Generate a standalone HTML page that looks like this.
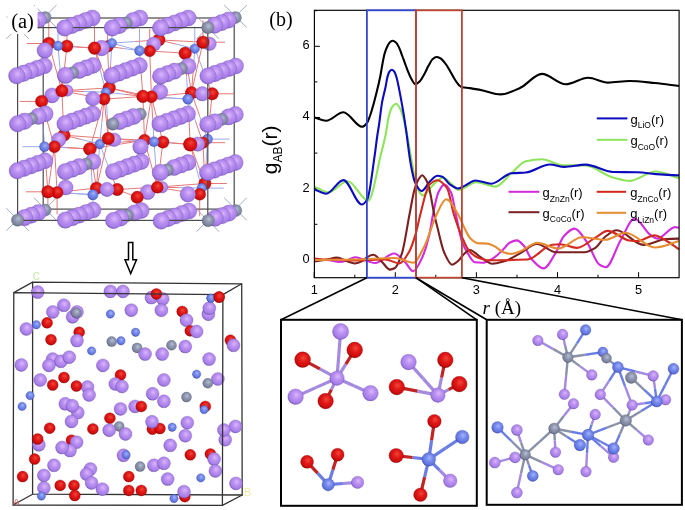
<!DOCTYPE html>
<html><head><meta charset="utf-8"><title>Figure</title>
<style>html,body{margin:0;padding:0;background:#fff;}#w{position:relative;width:685px;height:510px;overflow:hidden;background:#fff;}svg{display:block;}</style>
</head><body><div id="w">
<svg width="685" height="510" viewBox="0 0 685 510">
<defs>
<radialGradient id="gP" cx="0.55" cy="0.42" r="0.6" fx="0.55" fy="0.38">
<stop offset="0" stop-color="#dcb6fa"/>
<stop offset="0.45" stop-color="#b88ef0"/>
<stop offset="0.8" stop-color="#a67ee8"/>
<stop offset="0.93" stop-color="#8e66d2"/>
<stop offset="1" stop-color="#644494"/>
</radialGradient>
<radialGradient id="gR" cx="0.55" cy="0.42" r="0.6" fx="0.55" fy="0.38">
<stop offset="0" stop-color="#f04838"/>
<stop offset="0.45" stop-color="#e01818"/>
<stop offset="0.8" stop-color="#d00c0c"/>
<stop offset="0.93" stop-color="#b00404"/>
<stop offset="1" stop-color="#780000"/>
</radialGradient>
<radialGradient id="gB" cx="0.55" cy="0.42" r="0.6" fx="0.55" fy="0.38">
<stop offset="0" stop-color="#a4b4f8"/>
<stop offset="0.45" stop-color="#7488ec"/>
<stop offset="0.8" stop-color="#6074e0"/>
<stop offset="0.93" stop-color="#4c5cc4"/>
<stop offset="1" stop-color="#303c90"/>
</radialGradient>
<radialGradient id="gG" cx="0.55" cy="0.42" r="0.6" fx="0.55" fy="0.38">
<stop offset="0" stop-color="#b8c0d2"/>
<stop offset="0.45" stop-color="#8e96b0"/>
<stop offset="0.8" stop-color="#7c849c"/>
<stop offset="0.93" stop-color="#666c86"/>
<stop offset="1" stop-color="#444a5e"/>
</radialGradient>
</defs>
<rect x="43.2" y="18" width="191" height="191.1" fill="none" stroke="#4a4a4a" stroke-width="1.2"/>
<line x1="17.6" y1="27.6" x2="43.2" y2="18" stroke="#4a4a4a" stroke-width="1.2"/>
<line x1="207.8" y1="27.6" x2="234.2" y2="18" stroke="#4a4a4a" stroke-width="1.2"/>
<line x1="17.6" y1="220.4" x2="43.2" y2="209.1" stroke="#4a4a4a" stroke-width="1.2"/>
<line x1="207.8" y1="220.4" x2="234.2" y2="209.1" stroke="#4a4a4a" stroke-width="1.2"/>
<g stroke-width="1" opacity="0.75"><line x1="66.9" y1="46.1" x2="57.9" y2="44.8" stroke="#dc4c4c"/><line x1="57.9" y1="44.8" x2="48.8" y2="43.5" stroke="#dc4c4c"/><line x1="66.9" y1="46.1" x2="80.7" y2="47.1" stroke="#dc4c4c"/><line x1="80.7" y1="47.1" x2="94.5" y2="48.1" stroke="#dc4c4c"/><line x1="66.9" y1="46.1" x2="64.4" y2="68.5" stroke="#dc4c4c"/><line x1="64.4" y1="68.5" x2="61.9" y2="90.8" stroke="#dc4c4c"/><line x1="48.8" y1="43.5" x2="55.3" y2="67.2" stroke="#dc4c4c"/><line x1="55.3" y1="67.2" x2="61.9" y2="90.8" stroke="#dc4c4c"/><line x1="58" y1="45.8" x2="76.2" y2="47" stroke="#7c8cec"/><line x1="76.2" y1="47" x2="94.5" y2="48.1" stroke="#dc4c4c"/><line x1="58" y1="45.8" x2="60" y2="68.3" stroke="#7c8cec"/><line x1="60" y1="68.3" x2="61.9" y2="90.8" stroke="#dc4c4c"/><line x1="107.6" y1="46.4" x2="101" y2="47.2" stroke="#dc4c4c"/><line x1="101" y1="47.2" x2="94.5" y2="48.1" stroke="#dc4c4c"/><line x1="107.6" y1="46.4" x2="123.5" y2="48.5" stroke="#dc4c4c"/><line x1="123.5" y1="48.5" x2="139.5" y2="50.7" stroke="#7c8cec"/><line x1="107.6" y1="46.4" x2="108.4" y2="67.2" stroke="#dc4c4c"/><line x1="108.4" y1="67.2" x2="109.3" y2="87.9" stroke="#dc4c4c"/><line x1="111.9" y1="43.1" x2="103.2" y2="45.6" stroke="#7c8cec"/><line x1="103.2" y1="45.6" x2="94.5" y2="48.1" stroke="#dc4c4c"/><line x1="111.9" y1="43.1" x2="135.4" y2="41.5" stroke="#7c8cec"/><line x1="135.4" y1="41.5" x2="158.9" y2="39.9" stroke="#dc4c4c"/><line x1="111.9" y1="43.1" x2="125.7" y2="46.9" stroke="#7c8cec"/><line x1="125.7" y1="46.9" x2="139.5" y2="50.7" stroke="#7c8cec"/><line x1="111.9" y1="43.1" x2="110.6" y2="65.5" stroke="#7c8cec"/><line x1="110.6" y1="65.5" x2="109.3" y2="87.9" stroke="#dc4c4c"/><line x1="94.5" y1="48.1" x2="101.9" y2="68" stroke="#dc4c4c"/><line x1="101.9" y1="68" x2="109.3" y2="87.9" stroke="#dc4c4c"/><line x1="94.5" y1="48.1" x2="100.2" y2="70.2" stroke="#dc4c4c"/><line x1="100.2" y1="70.2" x2="106" y2="92.2" stroke="#7c8cec"/><line x1="158.9" y1="39.9" x2="176.9" y2="44.3" stroke="#dc4c4c"/><line x1="176.9" y1="44.3" x2="194.8" y2="48.7" stroke="#7c8cec"/><line x1="158.9" y1="39.9" x2="180.9" y2="41" stroke="#dc4c4c"/><line x1="180.9" y1="41" x2="203" y2="42.2" stroke="#dc4c4c"/><line x1="149.7" y1="51" x2="144.6" y2="50.9" stroke="#dc4c4c"/><line x1="144.6" y1="50.9" x2="139.5" y2="50.7" stroke="#7c8cec"/><line x1="149.7" y1="51" x2="167.4" y2="52.1" stroke="#dc4c4c"/><line x1="167.4" y1="52.1" x2="185.2" y2="53.3" stroke="#dc4c4c"/><line x1="149.7" y1="51" x2="150.6" y2="73.9" stroke="#dc4c4c"/><line x1="150.6" y1="73.9" x2="151.4" y2="96.8" stroke="#dc4c4c"/><line x1="139.5" y1="50.7" x2="141.2" y2="73.6" stroke="#7c8cec"/><line x1="141.2" y1="73.6" x2="142.9" y2="96.4" stroke="#dc4c4c"/><line x1="194.8" y1="48.7" x2="190" y2="51" stroke="#7c8cec"/><line x1="190" y1="51" x2="185.2" y2="53.3" stroke="#dc4c4c"/><line x1="194.8" y1="48.7" x2="203.5" y2="71.2" stroke="#7c8cec"/><line x1="203.5" y1="71.2" x2="212.2" y2="93.8" stroke="#dc4c4c"/><line x1="194.8" y1="48.7" x2="193.2" y2="70.8" stroke="#7c8cec"/><line x1="193.2" y1="70.8" x2="191.5" y2="92.8" stroke="#dc4c4c"/><line x1="203" y1="42.2" x2="197.2" y2="67.5" stroke="#dc4c4c"/><line x1="197.2" y1="67.5" x2="191.5" y2="92.8" stroke="#dc4c4c"/><line x1="185.2" y1="53.3" x2="188.3" y2="73" stroke="#dc4c4c"/><line x1="188.3" y1="73" x2="191.5" y2="92.8" stroke="#dc4c4c"/><line x1="185.2" y1="53.3" x2="186.6" y2="76.2" stroke="#dc4c4c"/><line x1="186.6" y1="76.2" x2="187.9" y2="99.1" stroke="#7c8cec"/><line x1="61.9" y1="90.8" x2="85.6" y2="89.3" stroke="#dc4c4c"/><line x1="85.6" y1="89.3" x2="109.3" y2="87.9" stroke="#dc4c4c"/><line x1="61.9" y1="90.8" x2="84" y2="91.5" stroke="#dc4c4c"/><line x1="84" y1="91.5" x2="106" y2="92.2" stroke="#7c8cec"/><line x1="61.9" y1="90.8" x2="83" y2="94.9" stroke="#dc4c4c"/><line x1="83" y1="94.9" x2="104.1" y2="99.1" stroke="#dc4c4c"/><line x1="61.9" y1="90.8" x2="62.9" y2="113" stroke="#dc4c4c"/><line x1="62.9" y1="113" x2="63.9" y2="135.2" stroke="#dc4c4c"/><line x1="41.6" y1="101.4" x2="48" y2="124" stroke="#dc4c4c"/><line x1="48" y1="124" x2="54.4" y2="146.7" stroke="#dc4c4c"/><line x1="41.6" y1="101.4" x2="43" y2="124" stroke="#dc4c4c"/><line x1="43" y1="124" x2="44.5" y2="146.7" stroke="#7c8cec"/><line x1="109.3" y1="87.9" x2="106.7" y2="93.5" stroke="#dc4c4c"/><line x1="106.7" y1="93.5" x2="104.1" y2="99.1" stroke="#dc4c4c"/><line x1="109.3" y1="87.9" x2="130.3" y2="92.3" stroke="#dc4c4c"/><line x1="130.3" y1="92.3" x2="151.4" y2="96.8" stroke="#dc4c4c"/><line x1="109.3" y1="87.9" x2="126.1" y2="92.2" stroke="#dc4c4c"/><line x1="126.1" y1="92.2" x2="142.9" y2="96.4" stroke="#dc4c4c"/><line x1="106" y1="92.2" x2="124.5" y2="94.3" stroke="#7c8cec"/><line x1="124.5" y1="94.3" x2="142.9" y2="96.4" stroke="#dc4c4c"/><line x1="106" y1="92.2" x2="107.2" y2="115.3" stroke="#7c8cec"/><line x1="107.2" y1="115.3" x2="108.3" y2="138.5" stroke="#dc4c4c"/><line x1="104.1" y1="99.1" x2="123.5" y2="97.8" stroke="#dc4c4c"/><line x1="123.5" y1="97.8" x2="142.9" y2="96.4" stroke="#dc4c4c"/><line x1="104.1" y1="99.1" x2="101.9" y2="121.6" stroke="#dc4c4c"/><line x1="101.9" y1="121.6" x2="99.7" y2="144.1" stroke="#7c8cec"/><line x1="104.1" y1="99.1" x2="106.2" y2="118.8" stroke="#dc4c4c"/><line x1="106.2" y1="118.8" x2="108.3" y2="138.5" stroke="#dc4c4c"/><line x1="104.1" y1="99.1" x2="97" y2="124" stroke="#dc4c4c"/><line x1="97" y1="124" x2="89.9" y2="149" stroke="#dc4c4c"/><line x1="151.4" y1="96.8" x2="171.4" y2="94.8" stroke="#dc4c4c"/><line x1="171.4" y1="94.8" x2="191.5" y2="92.8" stroke="#dc4c4c"/><line x1="151.4" y1="96.8" x2="169.7" y2="97.9" stroke="#dc4c4c"/><line x1="169.7" y1="97.9" x2="187.9" y2="99.1" stroke="#7c8cec"/><line x1="151.4" y1="96.8" x2="157.2" y2="119.4" stroke="#dc4c4c"/><line x1="157.2" y1="119.4" x2="162.9" y2="142.1" stroke="#dc4c4c"/><line x1="151.4" y1="96.8" x2="147.9" y2="118.5" stroke="#dc4c4c"/><line x1="147.9" y1="118.5" x2="144.5" y2="140.2" stroke="#dc4c4c"/><line x1="151.4" y1="96.8" x2="152.7" y2="119.3" stroke="#dc4c4c"/><line x1="152.7" y1="119.3" x2="154" y2="141.8" stroke="#7c8cec"/><line x1="142.9" y1="96.4" x2="165.4" y2="97.8" stroke="#dc4c4c"/><line x1="165.4" y1="97.8" x2="187.9" y2="99.1" stroke="#7c8cec"/><line x1="142.9" y1="96.4" x2="143.7" y2="118.3" stroke="#dc4c4c"/><line x1="143.7" y1="118.3" x2="144.5" y2="140.2" stroke="#dc4c4c"/><line x1="212.2" y1="93.8" x2="201.8" y2="93.3" stroke="#dc4c4c"/><line x1="201.8" y1="93.3" x2="191.5" y2="92.8" stroke="#dc4c4c"/><line x1="212.2" y1="93.8" x2="200.1" y2="96.4" stroke="#dc4c4c"/><line x1="200.1" y1="96.4" x2="187.9" y2="99.1" stroke="#7c8cec"/><line x1="212.2" y1="93.8" x2="209.9" y2="116.4" stroke="#dc4c4c"/><line x1="209.9" y1="116.4" x2="207.6" y2="139.1" stroke="#7c8cec"/><line x1="191.5" y1="92.8" x2="199.6" y2="115.9" stroke="#dc4c4c"/><line x1="199.6" y1="115.9" x2="207.6" y2="139.1" stroke="#7c8cec"/><line x1="187.9" y1="99.1" x2="195.4" y2="120.9" stroke="#7c8cec"/><line x1="195.4" y1="120.9" x2="203" y2="142.7" stroke="#dc4c4c"/><line x1="187.9" y1="99.1" x2="189.1" y2="121.8" stroke="#7c8cec"/><line x1="189.1" y1="121.8" x2="190.2" y2="144.4" stroke="#dc4c4c"/><line x1="63.9" y1="135.2" x2="81.8" y2="139.6" stroke="#dc4c4c"/><line x1="81.8" y1="139.6" x2="99.7" y2="144.1" stroke="#7c8cec"/><line x1="63.9" y1="135.2" x2="86.1" y2="136.8" stroke="#dc4c4c"/><line x1="86.1" y1="136.8" x2="108.3" y2="138.5" stroke="#dc4c4c"/><line x1="54.4" y1="146.7" x2="72.2" y2="147.8" stroke="#dc4c4c"/><line x1="72.2" y1="147.8" x2="89.9" y2="149" stroke="#dc4c4c"/><line x1="54.4" y1="146.7" x2="55.8" y2="169.6" stroke="#dc4c4c"/><line x1="55.8" y1="169.6" x2="57.1" y2="192.4" stroke="#dc4c4c"/><line x1="54.4" y1="146.7" x2="51.1" y2="169.2" stroke="#dc4c4c"/><line x1="51.1" y1="169.2" x2="47.9" y2="191.8" stroke="#dc4c4c"/><line x1="44.5" y1="146.7" x2="67.2" y2="147.8" stroke="#7c8cec"/><line x1="67.2" y1="147.8" x2="89.9" y2="149" stroke="#dc4c4c"/><line x1="44.5" y1="146.7" x2="46.2" y2="169.2" stroke="#7c8cec"/><line x1="46.2" y1="169.2" x2="47.9" y2="191.8" stroke="#dc4c4c"/><line x1="99.7" y1="144.1" x2="122.1" y2="142.1" stroke="#7c8cec"/><line x1="122.1" y1="142.1" x2="144.5" y2="140.2" stroke="#dc4c4c"/><line x1="99.7" y1="144.1" x2="108.5" y2="166.8" stroke="#7c8cec"/><line x1="108.5" y1="166.8" x2="117.2" y2="189.5" stroke="#dc4c4c"/><line x1="99.7" y1="144.1" x2="98.1" y2="166.1" stroke="#7c8cec"/><line x1="98.1" y1="166.1" x2="96.5" y2="188.1" stroke="#dc4c4c"/><line x1="108.3" y1="138.5" x2="126.4" y2="139.3" stroke="#dc4c4c"/><line x1="126.4" y1="139.3" x2="144.5" y2="140.2" stroke="#dc4c4c"/><line x1="108.3" y1="138.5" x2="131.2" y2="140.2" stroke="#dc4c4c"/><line x1="131.2" y1="140.2" x2="154" y2="141.8" stroke="#7c8cec"/><line x1="108.3" y1="138.5" x2="102.4" y2="163.3" stroke="#dc4c4c"/><line x1="102.4" y1="163.3" x2="96.5" y2="188.1" stroke="#dc4c4c"/><line x1="89.9" y1="149" x2="117.2" y2="144.6" stroke="#dc4c4c"/><line x1="117.2" y1="144.6" x2="144.5" y2="140.2" stroke="#dc4c4c"/><line x1="89.9" y1="149" x2="93.2" y2="168.6" stroke="#dc4c4c"/><line x1="93.2" y1="168.6" x2="96.5" y2="188.1" stroke="#dc4c4c"/><line x1="89.9" y1="149" x2="91.4" y2="171.8" stroke="#dc4c4c"/><line x1="91.4" y1="171.8" x2="92.9" y2="194.7" stroke="#7c8cec"/><line x1="162.9" y1="142.1" x2="153.7" y2="141.1" stroke="#dc4c4c"/><line x1="153.7" y1="141.1" x2="144.5" y2="140.2" stroke="#dc4c4c"/><line x1="162.9" y1="142.1" x2="176.6" y2="143.2" stroke="#dc4c4c"/><line x1="176.6" y1="143.2" x2="190.2" y2="144.4" stroke="#dc4c4c"/><line x1="162.9" y1="142.1" x2="160.1" y2="164.6" stroke="#dc4c4c"/><line x1="160.1" y1="164.6" x2="157.3" y2="187.2" stroke="#dc4c4c"/><line x1="144.5" y1="140.2" x2="150.9" y2="163.7" stroke="#dc4c4c"/><line x1="150.9" y1="163.7" x2="157.3" y2="187.2" stroke="#dc4c4c"/><line x1="154" y1="141.8" x2="172.1" y2="143.1" stroke="#7c8cec"/><line x1="172.1" y1="143.1" x2="190.2" y2="144.4" stroke="#dc4c4c"/><line x1="154" y1="141.8" x2="155.7" y2="164.5" stroke="#7c8cec"/><line x1="155.7" y1="164.5" x2="157.3" y2="187.2" stroke="#dc4c4c"/><line x1="207.6" y1="139.1" x2="198.9" y2="141.8" stroke="#7c8cec"/><line x1="198.9" y1="141.8" x2="190.2" y2="144.4" stroke="#dc4c4c"/><line x1="207.6" y1="139.1" x2="206.2" y2="161.3" stroke="#7c8cec"/><line x1="206.2" y1="161.3" x2="204.9" y2="183.5" stroke="#dc4c4c"/><line x1="203" y1="142.7" x2="196.6" y2="143.6" stroke="#dc4c4c"/><line x1="196.6" y1="143.6" x2="190.2" y2="144.4" stroke="#dc4c4c"/><line x1="203" y1="142.7" x2="203.9" y2="163.1" stroke="#dc4c4c"/><line x1="203.9" y1="163.1" x2="204.9" y2="183.5" stroke="#dc4c4c"/><line x1="190.2" y1="144.4" x2="197.6" y2="163.9" stroke="#dc4c4c"/><line x1="197.6" y1="163.9" x2="204.9" y2="183.5" stroke="#dc4c4c"/><line x1="190.2" y1="144.4" x2="195.9" y2="166.2" stroke="#dc4c4c"/><line x1="195.9" y1="166.2" x2="201.7" y2="188.1" stroke="#7c8cec"/><line x1="57.1" y1="192.4" x2="76.8" y2="190.2" stroke="#dc4c4c"/><line x1="76.8" y1="190.2" x2="96.5" y2="188.1" stroke="#dc4c4c"/><line x1="57.1" y1="192.4" x2="75" y2="193.6" stroke="#dc4c4c"/><line x1="75" y1="193.6" x2="92.9" y2="194.7" stroke="#7c8cec"/><line x1="47.9" y1="191.8" x2="70.4" y2="193.2" stroke="#dc4c4c"/><line x1="70.4" y1="193.2" x2="92.9" y2="194.7" stroke="#7c8cec"/><line x1="117.2" y1="189.5" x2="106.8" y2="188.8" stroke="#dc4c4c"/><line x1="106.8" y1="188.8" x2="96.5" y2="188.1" stroke="#dc4c4c"/><line x1="117.2" y1="189.5" x2="105.1" y2="192.1" stroke="#dc4c4c"/><line x1="105.1" y1="192.1" x2="92.9" y2="194.7" stroke="#7c8cec"/><line x1="117.2" y1="189.5" x2="137.2" y2="188.3" stroke="#dc4c4c"/><line x1="137.2" y1="188.3" x2="157.3" y2="187.2" stroke="#dc4c4c"/><line x1="117.2" y1="189.5" x2="127.2" y2="193.4" stroke="#dc4c4c"/><line x1="127.2" y1="193.4" x2="137.2" y2="197.3" stroke="#dc4c4c"/><line x1="157.3" y1="187.2" x2="181.1" y2="185.3" stroke="#dc4c4c"/><line x1="181.1" y1="185.3" x2="204.9" y2="183.5" stroke="#dc4c4c"/><line x1="157.3" y1="187.2" x2="179.5" y2="187.6" stroke="#dc4c4c"/><line x1="179.5" y1="187.6" x2="201.7" y2="188.1" stroke="#7c8cec"/><line x1="157.3" y1="187.2" x2="178.5" y2="190.8" stroke="#dc4c4c"/><line x1="178.5" y1="190.8" x2="199.7" y2="194.3" stroke="#dc4c4c"/><line x1="204.9" y1="183.5" x2="202.3" y2="188.9" stroke="#dc4c4c"/><line x1="202.3" y1="188.9" x2="199.7" y2="194.3" stroke="#dc4c4c"/><line x1="66.9" y1="46.1" x2="66.9" y2="24.1" stroke="#dc4c4c"/><line x1="48.8" y1="43.5" x2="26.8" y2="43.5" stroke="#dc4c4c"/><line x1="48.8" y1="43.5" x2="48.8" y2="21.5" stroke="#dc4c4c"/><line x1="58" y1="45.8" x2="58" y2="23.8" stroke="#7c8cec"/><line x1="107.6" y1="46.4" x2="107.6" y2="24.4" stroke="#dc4c4c"/><line x1="111.9" y1="43.1" x2="111.9" y2="21.1" stroke="#7c8cec"/><line x1="94.5" y1="48.1" x2="94.5" y2="26.1" stroke="#dc4c4c"/><line x1="158.9" y1="39.9" x2="158.9" y2="17.9" stroke="#dc4c4c"/><line x1="149.7" y1="51" x2="149.7" y2="29" stroke="#dc4c4c"/><line x1="139.5" y1="50.7" x2="139.5" y2="28.7" stroke="#7c8cec"/><line x1="194.8" y1="48.7" x2="194.8" y2="26.7" stroke="#7c8cec"/><line x1="203" y1="42.2" x2="225" y2="42.2" stroke="#dc4c4c"/><line x1="203" y1="42.2" x2="203" y2="20.2" stroke="#dc4c4c"/><line x1="41.6" y1="101.4" x2="19.6" y2="101.4" stroke="#dc4c4c"/><line x1="212.2" y1="93.8" x2="234.2" y2="93.8" stroke="#dc4c4c"/><line x1="44.5" y1="146.7" x2="22.5" y2="146.7" stroke="#7c8cec"/><line x1="207.6" y1="139.1" x2="229.6" y2="139.1" stroke="#7c8cec"/><line x1="203" y1="142.7" x2="225" y2="142.7" stroke="#dc4c4c"/><line x1="57.1" y1="192.4" x2="57.1" y2="214.4" stroke="#dc4c4c"/><line x1="47.9" y1="191.8" x2="25.9" y2="191.8" stroke="#dc4c4c"/><line x1="47.9" y1="191.8" x2="47.9" y2="213.8" stroke="#dc4c4c"/><line x1="92.9" y1="194.7" x2="92.9" y2="216.7" stroke="#7c8cec"/><line x1="137.2" y1="197.3" x2="137.2" y2="219.3" stroke="#dc4c4c"/><line x1="204.9" y1="183.5" x2="226.9" y2="183.5" stroke="#dc4c4c"/><line x1="201.7" y1="188.1" x2="223.7" y2="188.1" stroke="#7c8cec"/><line x1="199.7" y1="194.3" x2="199.7" y2="216.3" stroke="#dc4c4c"/></g>
<g stroke="#9aa0b8" stroke-width="0.9"><line x1="17.6" y1="219.5" x2="28.9" y2="230.8"/><line x1="17.6" y1="219.5" x2="6.3" y2="230.8"/><line x1="17.6" y1="219.5" x2="6.3" y2="208.2"/><line x1="17.6" y1="219.5" x2="28.9" y2="208.2"/><line x1="45.2" y1="209" x2="56.5" y2="220.3"/><line x1="45.2" y1="209" x2="33.9" y2="220.3"/><line x1="45.2" y1="209" x2="33.9" y2="197.7"/><line x1="45.2" y1="209" x2="56.5" y2="197.7"/><line x1="207.8" y1="220.4" x2="219.1" y2="231.7"/><line x1="207.8" y1="220.4" x2="196.5" y2="231.7"/><line x1="207.8" y1="220.4" x2="196.5" y2="209.1"/><line x1="207.8" y1="220.4" x2="219.1" y2="209.1"/><line x1="235.5" y1="209.1" x2="246.8" y2="220.4"/><line x1="235.5" y1="209.1" x2="224.2" y2="220.4"/><line x1="235.5" y1="209.1" x2="224.2" y2="197.8"/><line x1="235.5" y1="209.1" x2="246.8" y2="197.8"/><line x1="235.5" y1="16.3" x2="246.8" y2="27.6"/><line x1="235.5" y1="16.3" x2="224.2" y2="27.6"/><line x1="235.5" y1="16.3" x2="224.2" y2="5"/><line x1="235.5" y1="16.3" x2="246.8" y2="5"/><line x1="207.8" y1="27.6" x2="219.1" y2="38.9"/><line x1="207.8" y1="27.6" x2="196.5" y2="38.9"/><line x1="207.8" y1="27.6" x2="196.5" y2="16.3"/><line x1="207.8" y1="27.6" x2="219.1" y2="16.3"/><line x1="45.2" y1="16.3" x2="56.5" y2="27.6"/><line x1="45.2" y1="16.3" x2="33.9" y2="27.6"/><line x1="45.2" y1="16.3" x2="33.9" y2="5"/><line x1="45.2" y1="16.3" x2="56.5" y2="5"/><line x1="17.6" y1="27.6" x2="28.9" y2="38.9"/><line x1="17.6" y1="27.6" x2="6.3" y2="38.9"/><line x1="17.6" y1="27.6" x2="6.3" y2="16.3"/><line x1="17.6" y1="27.6" x2="28.9" y2="16.3"/></g>
<circle cx="66.9" cy="46.1" r="6.2" fill="url(#gR)" stroke="#8a0000" stroke-width="0.5" stroke-opacity="0.6"/>
<circle cx="48.8" cy="43.5" r="6.2" fill="url(#gR)" stroke="#8a0000" stroke-width="0.5" stroke-opacity="0.6"/>
<circle cx="58" cy="45.8" r="4.8" fill="url(#gB)" stroke="#3a4aa0" stroke-width="0.5" stroke-opacity="0.6"/>
<circle cx="44.8" cy="50.4" r="7.8" fill="url(#gP)" stroke="#6a4aa8" stroke-width="0.5" stroke-opacity="0.6"/>
<circle cx="107.6" cy="46.4" r="5.8" fill="url(#gR)" stroke="#8a0000" stroke-width="0.5" stroke-opacity="0.6"/>
<circle cx="111.9" cy="43.1" r="4.7" fill="url(#gB)" stroke="#3a4aa0" stroke-width="0.5" stroke-opacity="0.6"/>
<circle cx="101.7" cy="48.1" r="7.8" fill="url(#gP)" stroke="#6a4aa8" stroke-width="0.5" stroke-opacity="0.6"/>
<circle cx="94.5" cy="48.1" r="6.3" fill="url(#gR)" stroke="#8a0000" stroke-width="0.5" stroke-opacity="0.6"/>
<circle cx="158.9" cy="39.9" r="6.2" fill="url(#gR)" stroke="#8a0000" stroke-width="0.5" stroke-opacity="0.6"/>
<circle cx="153.7" cy="44.1" r="7.2" fill="url(#gP)" stroke="#6a4aa8" stroke-width="0.5" stroke-opacity="0.6"/>
<circle cx="149.7" cy="51" r="5.8" fill="url(#gR)" stroke="#8a0000" stroke-width="0.5" stroke-opacity="0.6"/>
<circle cx="139.5" cy="50.7" r="5" fill="url(#gB)" stroke="#3a4aa0" stroke-width="0.5" stroke-opacity="0.6"/>
<circle cx="209.5" cy="43.8" r="6.8" fill="url(#gP)" stroke="#6a4aa8" stroke-width="0.5" stroke-opacity="0.6"/>
<circle cx="194.8" cy="48.7" r="4.8" fill="url(#gB)" stroke="#3a4aa0" stroke-width="0.5" stroke-opacity="0.6"/>
<circle cx="203" cy="42.2" r="6.3" fill="url(#gR)" stroke="#8a0000" stroke-width="0.5" stroke-opacity="0.6"/>
<circle cx="185.2" cy="53.3" r="6.3" fill="url(#gR)" stroke="#8a0000" stroke-width="0.5" stroke-opacity="0.6"/>
<circle cx="67.2" cy="90.5" r="5.8" fill="url(#gP)" stroke="#6a4aa8" stroke-width="0.5" stroke-opacity="0.6"/>
<circle cx="52.1" cy="95.4" r="7.5" fill="url(#gP)" stroke="#6a4aa8" stroke-width="0.5" stroke-opacity="0.6"/>
<circle cx="61.9" cy="90.8" r="6.2" fill="url(#gR)" stroke="#8a0000" stroke-width="0.5" stroke-opacity="0.6"/>
<circle cx="41.6" cy="101.4" r="6.2" fill="url(#gR)" stroke="#8a0000" stroke-width="0.5" stroke-opacity="0.6"/>
<circle cx="109.3" cy="87.9" r="6.2" fill="url(#gR)" stroke="#8a0000" stroke-width="0.5" stroke-opacity="0.6"/>
<circle cx="106" cy="92.2" r="4.8" fill="url(#gB)" stroke="#3a4aa0" stroke-width="0.5" stroke-opacity="0.6"/>
<circle cx="104.1" cy="99.1" r="6" fill="url(#gR)" stroke="#8a0000" stroke-width="0.5" stroke-opacity="0.6"/>
<circle cx="92.9" cy="98.7" r="7.3" fill="url(#gP)" stroke="#6a4aa8" stroke-width="0.5" stroke-opacity="0.6"/>
<circle cx="160" cy="91.8" r="7.8" fill="url(#gP)" stroke="#6a4aa8" stroke-width="0.5" stroke-opacity="0.6"/>
<circle cx="151.4" cy="96.8" r="6" fill="url(#gR)" stroke="#8a0000" stroke-width="0.5" stroke-opacity="0.6"/>
<circle cx="142.9" cy="96.4" r="6.3" fill="url(#gR)" stroke="#8a0000" stroke-width="0.5" stroke-opacity="0.6"/>
<circle cx="212.2" cy="93.8" r="6.2" fill="url(#gR)" stroke="#8a0000" stroke-width="0.5" stroke-opacity="0.6"/>
<circle cx="191.5" cy="92.8" r="6.2" fill="url(#gR)" stroke="#8a0000" stroke-width="0.5" stroke-opacity="0.6"/>
<circle cx="202.3" cy="93.8" r="7.2" fill="url(#gP)" stroke="#6a4aa8" stroke-width="0.5" stroke-opacity="0.6"/>
<circle cx="187.9" cy="99.1" r="5.2" fill="url(#gB)" stroke="#3a4aa0" stroke-width="0.5" stroke-opacity="0.6"/>
<circle cx="63.9" cy="135.2" r="6.2" fill="url(#gR)" stroke="#8a0000" stroke-width="0.5" stroke-opacity="0.6"/>
<circle cx="58.7" cy="139.8" r="7.2" fill="url(#gP)" stroke="#6a4aa8" stroke-width="0.5" stroke-opacity="0.6"/>
<circle cx="54.4" cy="146.7" r="6" fill="url(#gR)" stroke="#8a0000" stroke-width="0.5" stroke-opacity="0.6"/>
<circle cx="44.5" cy="146.7" r="5" fill="url(#gB)" stroke="#3a4aa0" stroke-width="0.5" stroke-opacity="0.6"/>
<circle cx="114.2" cy="139.8" r="6.8" fill="url(#gP)" stroke="#6a4aa8" stroke-width="0.5" stroke-opacity="0.6"/>
<circle cx="99.7" cy="144.1" r="4.8" fill="url(#gB)" stroke="#3a4aa0" stroke-width="0.5" stroke-opacity="0.6"/>
<circle cx="108.3" cy="138.5" r="6.2" fill="url(#gR)" stroke="#8a0000" stroke-width="0.5" stroke-opacity="0.6"/>
<circle cx="89.9" cy="149" r="6.5" fill="url(#gR)" stroke="#8a0000" stroke-width="0.5" stroke-opacity="0.6"/>
<circle cx="162.9" cy="142.1" r="6.2" fill="url(#gR)" stroke="#8a0000" stroke-width="0.5" stroke-opacity="0.6"/>
<circle cx="144.5" cy="140.2" r="6" fill="url(#gR)" stroke="#8a0000" stroke-width="0.5" stroke-opacity="0.6"/>
<circle cx="154" cy="141.8" r="5" fill="url(#gB)" stroke="#3a4aa0" stroke-width="0.5" stroke-opacity="0.6"/>
<circle cx="140.5" cy="146.7" r="7.8" fill="url(#gP)" stroke="#6a4aa8" stroke-width="0.5" stroke-opacity="0.6"/>
<circle cx="207.6" cy="139.1" r="5" fill="url(#gB)" stroke="#3a4aa0" stroke-width="0.5" stroke-opacity="0.6"/>
<circle cx="203" cy="142.7" r="5.8" fill="url(#gR)" stroke="#8a0000" stroke-width="0.5" stroke-opacity="0.6"/>
<circle cx="197.7" cy="144.1" r="7.2" fill="url(#gP)" stroke="#6a4aa8" stroke-width="0.5" stroke-opacity="0.6"/>
<circle cx="190.2" cy="144.4" r="6.8" fill="url(#gR)" stroke="#8a0000" stroke-width="0.5" stroke-opacity="0.6"/>
<circle cx="65.6" cy="187.5" r="7.5" fill="url(#gP)" stroke="#6a4aa8" stroke-width="0.5" stroke-opacity="0.6"/>
<circle cx="57.1" cy="192.4" r="6" fill="url(#gR)" stroke="#8a0000" stroke-width="0.5" stroke-opacity="0.6"/>
<circle cx="47.9" cy="191.8" r="6.3" fill="url(#gR)" stroke="#8a0000" stroke-width="0.5" stroke-opacity="0.6"/>
<circle cx="117.2" cy="189.5" r="6.2" fill="url(#gR)" stroke="#8a0000" stroke-width="0.5" stroke-opacity="0.6"/>
<circle cx="96.5" cy="188.1" r="6.2" fill="url(#gR)" stroke="#8a0000" stroke-width="0.5" stroke-opacity="0.6"/>
<circle cx="107" cy="189.5" r="7.2" fill="url(#gP)" stroke="#6a4aa8" stroke-width="0.5" stroke-opacity="0.6"/>
<circle cx="92.9" cy="194.7" r="5.2" fill="url(#gB)" stroke="#3a4aa0" stroke-width="0.5" stroke-opacity="0.6"/>
<circle cx="162.2" cy="187.2" r="5.8" fill="url(#gP)" stroke="#6a4aa8" stroke-width="0.5" stroke-opacity="0.6"/>
<circle cx="147.7" cy="192.1" r="7.5" fill="url(#gP)" stroke="#6a4aa8" stroke-width="0.5" stroke-opacity="0.6"/>
<circle cx="157.3" cy="187.2" r="6" fill="url(#gR)" stroke="#8a0000" stroke-width="0.5" stroke-opacity="0.6"/>
<circle cx="137.2" cy="197.3" r="6.2" fill="url(#gR)" stroke="#8a0000" stroke-width="0.5" stroke-opacity="0.6"/>
<circle cx="204.9" cy="183.5" r="6.2" fill="url(#gR)" stroke="#8a0000" stroke-width="0.5" stroke-opacity="0.6"/>
<circle cx="201.7" cy="188.1" r="4.8" fill="url(#gB)" stroke="#3a4aa0" stroke-width="0.5" stroke-opacity="0.6"/>
<circle cx="199.7" cy="194.3" r="6" fill="url(#gR)" stroke="#8a0000" stroke-width="0.5" stroke-opacity="0.6"/>
<circle cx="187.9" cy="194.3" r="7.8" fill="url(#gP)" stroke="#6a4aa8" stroke-width="0.5" stroke-opacity="0.6"/>
<circle cx="45.2" cy="17.6" r="6" fill="url(#gG)" stroke="#50566c" stroke-width="0.5" stroke-opacity="0.6"/>
<circle cx="38.3" cy="20.1" r="8.1" fill="url(#gP)" stroke="#6a4aa8" stroke-width="0.5" stroke-opacity="0.6"/>
<circle cx="31.4" cy="22.6" r="8.1" fill="url(#gP)" stroke="#6a4aa8" stroke-width="0.5" stroke-opacity="0.6"/>
<circle cx="24.5" cy="25.1" r="8.2" fill="url(#gP)" stroke="#6a4aa8" stroke-width="0.5" stroke-opacity="0.6"/>
<circle cx="92.4" cy="18" r="8" fill="url(#gP)" stroke="#6a4aa8" stroke-width="0.5" stroke-opacity="0.6"/>
<circle cx="85.5" cy="20.5" r="8.1" fill="url(#gP)" stroke="#6a4aa8" stroke-width="0.5" stroke-opacity="0.6"/>
<circle cx="78.6" cy="23" r="8.1" fill="url(#gP)" stroke="#6a4aa8" stroke-width="0.5" stroke-opacity="0.6"/>
<circle cx="71.7" cy="25.5" r="8.2" fill="url(#gP)" stroke="#6a4aa8" stroke-width="0.5" stroke-opacity="0.6"/>
<circle cx="139.9" cy="18" r="8" fill="url(#gP)" stroke="#6a4aa8" stroke-width="0.5" stroke-opacity="0.6"/>
<circle cx="133" cy="20.5" r="8.1" fill="url(#gP)" stroke="#6a4aa8" stroke-width="0.5" stroke-opacity="0.6"/>
<circle cx="126.1" cy="23" r="6.1" fill="url(#gG)" stroke="#50566c" stroke-width="0.5" stroke-opacity="0.6"/>
<circle cx="119.2" cy="25.5" r="8.2" fill="url(#gP)" stroke="#6a4aa8" stroke-width="0.5" stroke-opacity="0.6"/>
<circle cx="188.2" cy="18" r="8" fill="url(#gP)" stroke="#6a4aa8" stroke-width="0.5" stroke-opacity="0.6"/>
<circle cx="181.3" cy="20.5" r="8.1" fill="url(#gP)" stroke="#6a4aa8" stroke-width="0.5" stroke-opacity="0.6"/>
<circle cx="174.4" cy="23" r="8.1" fill="url(#gP)" stroke="#6a4aa8" stroke-width="0.5" stroke-opacity="0.6"/>
<circle cx="167.5" cy="25.5" r="8.2" fill="url(#gP)" stroke="#6a4aa8" stroke-width="0.5" stroke-opacity="0.6"/>
<circle cx="235.4" cy="17.6" r="6" fill="url(#gG)" stroke="#50566c" stroke-width="0.5" stroke-opacity="0.6"/>
<circle cx="228.5" cy="20.1" r="8.1" fill="url(#gP)" stroke="#6a4aa8" stroke-width="0.5" stroke-opacity="0.6"/>
<circle cx="221.6" cy="22.6" r="8.1" fill="url(#gP)" stroke="#6a4aa8" stroke-width="0.5" stroke-opacity="0.6"/>
<circle cx="214.7" cy="25.1" r="8.2" fill="url(#gP)" stroke="#6a4aa8" stroke-width="0.5" stroke-opacity="0.6"/>
<circle cx="44.3" cy="65.8" r="8" fill="url(#gP)" stroke="#6a4aa8" stroke-width="0.5" stroke-opacity="0.6"/>
<circle cx="37.4" cy="68.3" r="8.1" fill="url(#gP)" stroke="#6a4aa8" stroke-width="0.5" stroke-opacity="0.6"/>
<circle cx="30.5" cy="70.8" r="8.1" fill="url(#gP)" stroke="#6a4aa8" stroke-width="0.5" stroke-opacity="0.6"/>
<circle cx="23.6" cy="73.3" r="8.2" fill="url(#gP)" stroke="#6a4aa8" stroke-width="0.5" stroke-opacity="0.6"/>
<circle cx="93.1" cy="65.4" r="8" fill="url(#gP)" stroke="#6a4aa8" stroke-width="0.5" stroke-opacity="0.6"/>
<circle cx="86.2" cy="67.9" r="8.1" fill="url(#gP)" stroke="#6a4aa8" stroke-width="0.5" stroke-opacity="0.6"/>
<circle cx="79.3" cy="70.4" r="8.1" fill="url(#gP)" stroke="#6a4aa8" stroke-width="0.5" stroke-opacity="0.6"/>
<circle cx="72.4" cy="72.9" r="6.2" fill="url(#gG)" stroke="#50566c" stroke-width="0.5" stroke-opacity="0.6"/>
<circle cx="139.4" cy="65.6" r="8" fill="url(#gP)" stroke="#6a4aa8" stroke-width="0.5" stroke-opacity="0.6"/>
<circle cx="132.5" cy="68.1" r="8.1" fill="url(#gP)" stroke="#6a4aa8" stroke-width="0.5" stroke-opacity="0.6"/>
<circle cx="125.6" cy="70.6" r="8.1" fill="url(#gP)" stroke="#6a4aa8" stroke-width="0.5" stroke-opacity="0.6"/>
<circle cx="118.7" cy="73.1" r="8.2" fill="url(#gP)" stroke="#6a4aa8" stroke-width="0.5" stroke-opacity="0.6"/>
<circle cx="188.2" cy="66.2" r="8" fill="url(#gP)" stroke="#6a4aa8" stroke-width="0.5" stroke-opacity="0.6"/>
<circle cx="181.3" cy="68.7" r="6.1" fill="url(#gG)" stroke="#50566c" stroke-width="0.5" stroke-opacity="0.6"/>
<circle cx="174.4" cy="71.2" r="8.1" fill="url(#gP)" stroke="#6a4aa8" stroke-width="0.5" stroke-opacity="0.6"/>
<circle cx="167.5" cy="73.7" r="8.2" fill="url(#gP)" stroke="#6a4aa8" stroke-width="0.5" stroke-opacity="0.6"/>
<circle cx="235.6" cy="66" r="8" fill="url(#gP)" stroke="#6a4aa8" stroke-width="0.5" stroke-opacity="0.6"/>
<circle cx="228.7" cy="68.5" r="8.1" fill="url(#gP)" stroke="#6a4aa8" stroke-width="0.5" stroke-opacity="0.6"/>
<circle cx="221.8" cy="71" r="8.1" fill="url(#gP)" stroke="#6a4aa8" stroke-width="0.5" stroke-opacity="0.6"/>
<circle cx="214.9" cy="73.5" r="8.2" fill="url(#gP)" stroke="#6a4aa8" stroke-width="0.5" stroke-opacity="0.6"/>
<circle cx="45.2" cy="113.8" r="8" fill="url(#gP)" stroke="#6a4aa8" stroke-width="0.5" stroke-opacity="0.6"/>
<circle cx="38.3" cy="116.3" r="8.1" fill="url(#gP)" stroke="#6a4aa8" stroke-width="0.5" stroke-opacity="0.6"/>
<circle cx="31.4" cy="118.8" r="6.1" fill="url(#gG)" stroke="#50566c" stroke-width="0.5" stroke-opacity="0.6"/>
<circle cx="24.5" cy="121.3" r="8.2" fill="url(#gP)" stroke="#6a4aa8" stroke-width="0.5" stroke-opacity="0.6"/>
<circle cx="92.6" cy="113.7" r="8" fill="url(#gP)" stroke="#6a4aa8" stroke-width="0.5" stroke-opacity="0.6"/>
<circle cx="85.7" cy="116.2" r="8.1" fill="url(#gP)" stroke="#6a4aa8" stroke-width="0.5" stroke-opacity="0.6"/>
<circle cx="78.8" cy="118.7" r="8.1" fill="url(#gP)" stroke="#6a4aa8" stroke-width="0.5" stroke-opacity="0.6"/>
<circle cx="71.9" cy="121.2" r="8.2" fill="url(#gP)" stroke="#6a4aa8" stroke-width="0.5" stroke-opacity="0.6"/>
<circle cx="140.4" cy="114" r="6" fill="url(#gG)" stroke="#50566c" stroke-width="0.5" stroke-opacity="0.6"/>
<circle cx="133.5" cy="116.5" r="8.1" fill="url(#gP)" stroke="#6a4aa8" stroke-width="0.5" stroke-opacity="0.6"/>
<circle cx="126.6" cy="119" r="8.1" fill="url(#gP)" stroke="#6a4aa8" stroke-width="0.5" stroke-opacity="0.6"/>
<circle cx="119.7" cy="121.5" r="8.2" fill="url(#gP)" stroke="#6a4aa8" stroke-width="0.5" stroke-opacity="0.6"/>
<circle cx="187.6" cy="113.9" r="8" fill="url(#gP)" stroke="#6a4aa8" stroke-width="0.5" stroke-opacity="0.6"/>
<circle cx="180.7" cy="116.4" r="8.1" fill="url(#gP)" stroke="#6a4aa8" stroke-width="0.5" stroke-opacity="0.6"/>
<circle cx="173.8" cy="118.9" r="8.1" fill="url(#gP)" stroke="#6a4aa8" stroke-width="0.5" stroke-opacity="0.6"/>
<circle cx="166.9" cy="121.4" r="8.2" fill="url(#gP)" stroke="#6a4aa8" stroke-width="0.5" stroke-opacity="0.6"/>
<circle cx="235.4" cy="114.4" r="8" fill="url(#gP)" stroke="#6a4aa8" stroke-width="0.5" stroke-opacity="0.6"/>
<circle cx="228.5" cy="116.9" r="8.1" fill="url(#gP)" stroke="#6a4aa8" stroke-width="0.5" stroke-opacity="0.6"/>
<circle cx="221.6" cy="119.4" r="6.1" fill="url(#gG)" stroke="#50566c" stroke-width="0.5" stroke-opacity="0.6"/>
<circle cx="214.7" cy="121.9" r="8.2" fill="url(#gP)" stroke="#6a4aa8" stroke-width="0.5" stroke-opacity="0.6"/>
<circle cx="44.9" cy="160.8" r="8" fill="url(#gP)" stroke="#6a4aa8" stroke-width="0.5" stroke-opacity="0.6"/>
<circle cx="38" cy="163.3" r="8.1" fill="url(#gP)" stroke="#6a4aa8" stroke-width="0.5" stroke-opacity="0.6"/>
<circle cx="31.1" cy="165.8" r="8.1" fill="url(#gP)" stroke="#6a4aa8" stroke-width="0.5" stroke-opacity="0.6"/>
<circle cx="24.2" cy="168.3" r="8.2" fill="url(#gP)" stroke="#6a4aa8" stroke-width="0.5" stroke-opacity="0.6"/>
<circle cx="93" cy="161.6" r="8" fill="url(#gP)" stroke="#6a4aa8" stroke-width="0.5" stroke-opacity="0.6"/>
<circle cx="86.1" cy="164.1" r="6.1" fill="url(#gG)" stroke="#50566c" stroke-width="0.5" stroke-opacity="0.6"/>
<circle cx="79.2" cy="166.6" r="8.1" fill="url(#gP)" stroke="#6a4aa8" stroke-width="0.5" stroke-opacity="0.6"/>
<circle cx="72.3" cy="169.1" r="8.2" fill="url(#gP)" stroke="#6a4aa8" stroke-width="0.5" stroke-opacity="0.6"/>
<circle cx="141.2" cy="161.6" r="8" fill="url(#gP)" stroke="#6a4aa8" stroke-width="0.5" stroke-opacity="0.6"/>
<circle cx="134.3" cy="164.1" r="8.1" fill="url(#gP)" stroke="#6a4aa8" stroke-width="0.5" stroke-opacity="0.6"/>
<circle cx="127.4" cy="166.6" r="8.1" fill="url(#gP)" stroke="#6a4aa8" stroke-width="0.5" stroke-opacity="0.6"/>
<circle cx="120.5" cy="169.1" r="8.2" fill="url(#gP)" stroke="#6a4aa8" stroke-width="0.5" stroke-opacity="0.6"/>
<circle cx="187.9" cy="162.5" r="8" fill="url(#gP)" stroke="#6a4aa8" stroke-width="0.5" stroke-opacity="0.6"/>
<circle cx="181" cy="165" r="8.1" fill="url(#gP)" stroke="#6a4aa8" stroke-width="0.5" stroke-opacity="0.6"/>
<circle cx="174.1" cy="167.5" r="8.1" fill="url(#gP)" stroke="#6a4aa8" stroke-width="0.5" stroke-opacity="0.6"/>
<circle cx="167.2" cy="170" r="6.2" fill="url(#gG)" stroke="#50566c" stroke-width="0.5" stroke-opacity="0.6"/>
<circle cx="235.2" cy="162.5" r="8" fill="url(#gP)" stroke="#6a4aa8" stroke-width="0.5" stroke-opacity="0.6"/>
<circle cx="228.3" cy="165" r="8.1" fill="url(#gP)" stroke="#6a4aa8" stroke-width="0.5" stroke-opacity="0.6"/>
<circle cx="221.4" cy="167.5" r="8.1" fill="url(#gP)" stroke="#6a4aa8" stroke-width="0.5" stroke-opacity="0.6"/>
<circle cx="214.5" cy="170" r="8.2" fill="url(#gP)" stroke="#6a4aa8" stroke-width="0.5" stroke-opacity="0.6"/>
<circle cx="45.2" cy="210.1" r="6" fill="url(#gG)" stroke="#50566c" stroke-width="0.5" stroke-opacity="0.6"/>
<circle cx="38.3" cy="212.6" r="8.1" fill="url(#gP)" stroke="#6a4aa8" stroke-width="0.5" stroke-opacity="0.6"/>
<circle cx="31.4" cy="215.1" r="8.1" fill="url(#gP)" stroke="#6a4aa8" stroke-width="0.5" stroke-opacity="0.6"/>
<circle cx="24.5" cy="217.6" r="8.2" fill="url(#gP)" stroke="#6a4aa8" stroke-width="0.5" stroke-opacity="0.6"/>
<circle cx="93" cy="210.1" r="8" fill="url(#gP)" stroke="#6a4aa8" stroke-width="0.5" stroke-opacity="0.6"/>
<circle cx="86.1" cy="212.6" r="8.1" fill="url(#gP)" stroke="#6a4aa8" stroke-width="0.5" stroke-opacity="0.6"/>
<circle cx="79.2" cy="215.1" r="8.1" fill="url(#gP)" stroke="#6a4aa8" stroke-width="0.5" stroke-opacity="0.6"/>
<circle cx="72.3" cy="217.6" r="8.2" fill="url(#gP)" stroke="#6a4aa8" stroke-width="0.5" stroke-opacity="0.6"/>
<circle cx="141.2" cy="210.5" r="8" fill="url(#gP)" stroke="#6a4aa8" stroke-width="0.5" stroke-opacity="0.6"/>
<circle cx="134.3" cy="213" r="8.1" fill="url(#gP)" stroke="#6a4aa8" stroke-width="0.5" stroke-opacity="0.6"/>
<circle cx="127.4" cy="215.5" r="6.1" fill="url(#gG)" stroke="#50566c" stroke-width="0.5" stroke-opacity="0.6"/>
<circle cx="120.5" cy="218" r="8.2" fill="url(#gP)" stroke="#6a4aa8" stroke-width="0.5" stroke-opacity="0.6"/>
<circle cx="188.8" cy="211" r="8" fill="url(#gP)" stroke="#6a4aa8" stroke-width="0.5" stroke-opacity="0.6"/>
<circle cx="181.9" cy="213.5" r="8.1" fill="url(#gP)" stroke="#6a4aa8" stroke-width="0.5" stroke-opacity="0.6"/>
<circle cx="175" cy="216" r="8.1" fill="url(#gP)" stroke="#6a4aa8" stroke-width="0.5" stroke-opacity="0.6"/>
<circle cx="168.1" cy="218.5" r="8.2" fill="url(#gP)" stroke="#6a4aa8" stroke-width="0.5" stroke-opacity="0.6"/>
<circle cx="235.8" cy="210.6" r="6" fill="url(#gG)" stroke="#50566c" stroke-width="0.5" stroke-opacity="0.6"/>
<circle cx="228.9" cy="213.1" r="8.1" fill="url(#gP)" stroke="#6a4aa8" stroke-width="0.5" stroke-opacity="0.6"/>
<circle cx="222" cy="215.6" r="8.1" fill="url(#gP)" stroke="#6a4aa8" stroke-width="0.5" stroke-opacity="0.6"/>
<circle cx="215.1" cy="218.1" r="8.2" fill="url(#gP)" stroke="#6a4aa8" stroke-width="0.5" stroke-opacity="0.6"/>
<rect x="17.6" y="27.6" width="190.2" height="192.8" fill="none" stroke="#4a4a4a" stroke-width="1.2"/>
<circle cx="17.6" cy="27.6" r="6.2" fill="url(#gG)" stroke="#50566c" stroke-width="0.5" stroke-opacity="0.6"/>
<circle cx="64.8" cy="28" r="8.2" fill="url(#gP)" stroke="#6a4aa8" stroke-width="0.5" stroke-opacity="0.6"/>
<circle cx="112.3" cy="28" r="8.2" fill="url(#gP)" stroke="#6a4aa8" stroke-width="0.5" stroke-opacity="0.6"/>
<circle cx="160.6" cy="28" r="8.2" fill="url(#gP)" stroke="#6a4aa8" stroke-width="0.5" stroke-opacity="0.6"/>
<circle cx="207.8" cy="27.6" r="6.2" fill="url(#gG)" stroke="#50566c" stroke-width="0.5" stroke-opacity="0.6"/>
<circle cx="16.7" cy="75.8" r="8.2" fill="url(#gP)" stroke="#6a4aa8" stroke-width="0.5" stroke-opacity="0.6"/>
<circle cx="65.5" cy="75.4" r="8.2" fill="url(#gP)" stroke="#6a4aa8" stroke-width="0.5" stroke-opacity="0.6"/>
<circle cx="111.8" cy="75.6" r="8.2" fill="url(#gP)" stroke="#6a4aa8" stroke-width="0.5" stroke-opacity="0.6"/>
<circle cx="160.6" cy="76.2" r="8.2" fill="url(#gP)" stroke="#6a4aa8" stroke-width="0.5" stroke-opacity="0.6"/>
<circle cx="208" cy="76" r="8.2" fill="url(#gP)" stroke="#6a4aa8" stroke-width="0.5" stroke-opacity="0.6"/>
<circle cx="17.6" cy="123.8" r="8.2" fill="url(#gP)" stroke="#6a4aa8" stroke-width="0.5" stroke-opacity="0.6"/>
<circle cx="65" cy="123.7" r="8.2" fill="url(#gP)" stroke="#6a4aa8" stroke-width="0.5" stroke-opacity="0.6"/>
<circle cx="112.8" cy="124" r="6.2" fill="url(#gG)" stroke="#50566c" stroke-width="0.5" stroke-opacity="0.6"/>
<circle cx="160" cy="123.9" r="8.2" fill="url(#gP)" stroke="#6a4aa8" stroke-width="0.5" stroke-opacity="0.6"/>
<circle cx="207.8" cy="124.4" r="8.2" fill="url(#gP)" stroke="#6a4aa8" stroke-width="0.5" stroke-opacity="0.6"/>
<circle cx="17.3" cy="170.8" r="8.2" fill="url(#gP)" stroke="#6a4aa8" stroke-width="0.5" stroke-opacity="0.6"/>
<circle cx="65.4" cy="171.6" r="8.2" fill="url(#gP)" stroke="#6a4aa8" stroke-width="0.5" stroke-opacity="0.6"/>
<circle cx="113.6" cy="171.6" r="8.2" fill="url(#gP)" stroke="#6a4aa8" stroke-width="0.5" stroke-opacity="0.6"/>
<circle cx="160.3" cy="172.5" r="8.2" fill="url(#gP)" stroke="#6a4aa8" stroke-width="0.5" stroke-opacity="0.6"/>
<circle cx="207.6" cy="172.5" r="8.2" fill="url(#gP)" stroke="#6a4aa8" stroke-width="0.5" stroke-opacity="0.6"/>
<circle cx="17.6" cy="220.1" r="6.2" fill="url(#gG)" stroke="#50566c" stroke-width="0.5" stroke-opacity="0.6"/>
<circle cx="65.4" cy="220.1" r="8.2" fill="url(#gP)" stroke="#6a4aa8" stroke-width="0.5" stroke-opacity="0.6"/>
<circle cx="113.6" cy="220.5" r="8.2" fill="url(#gP)" stroke="#6a4aa8" stroke-width="0.5" stroke-opacity="0.6"/>
<circle cx="161.2" cy="221" r="8.2" fill="url(#gP)" stroke="#6a4aa8" stroke-width="0.5" stroke-opacity="0.6"/>
<circle cx="208.2" cy="220.6" r="6.2" fill="url(#gG)" stroke="#50566c" stroke-width="0.5" stroke-opacity="0.6"/>
<rect x="7.5" y="6" width="30.1" height="28" fill="#fff"/>
<text x="11.2" y="28" font-family="Liberation Serif, Times New Roman, serif" font-size="20.5">(a)</text>
<path d="M128.5,242.5 L132.8,242.5 L132.8,259.8 L136.5,259.8 L130.7,273.5 L125,259.8 L128.5,259.8 Z" fill="#fff" stroke="#000" stroke-width="1.5" stroke-linejoin="miter"/>
<polygon points="32.6,282.1 241.7,283.8 242.2,495 32.6,494.2" fill="none" stroke="#333" stroke-width="1.3"/>
<line x1="13.8" y1="292.6" x2="32.6" y2="282.1" stroke="#333" stroke-width="1.3"/>
<line x1="222.9" y1="294.6" x2="241.7" y2="283.8" stroke="#333" stroke-width="1.3"/>
<line x1="222.4" y1="505.3" x2="242.2" y2="495" stroke="#333" stroke-width="1.3"/>
<line x1="13.1" y1="505" x2="32.6" y2="494.2" stroke="#333" stroke-width="1.3"/>
<circle cx="37.7" cy="292.1" r="6.5" fill="url(#gP)" stroke="#6a4aa8" stroke-width="0.5" stroke-opacity="0.6"/>
<circle cx="110.4" cy="291.4" r="6.5" fill="url(#gP)" stroke="#6a4aa8" stroke-width="0.5" stroke-opacity="0.6"/>
<circle cx="123" cy="291.4" r="6.5" fill="url(#gP)" stroke="#6a4aa8" stroke-width="0.5" stroke-opacity="0.6"/>
<circle cx="52.8" cy="311.9" r="6.5" fill="url(#gP)" stroke="#6a4aa8" stroke-width="0.5" stroke-opacity="0.6"/>
<circle cx="63.8" cy="305.3" r="6.5" fill="url(#gP)" stroke="#6a4aa8" stroke-width="0.5" stroke-opacity="0.6"/>
<circle cx="72.6" cy="316.8" r="6.5" fill="url(#gP)" stroke="#6a4aa8" stroke-width="0.5" stroke-opacity="0.6"/>
<circle cx="77" cy="311.9" r="6.5" fill="url(#gP)" stroke="#6a4aa8" stroke-width="0.5" stroke-opacity="0.6"/>
<circle cx="76.2" cy="312.8" r="5" fill="url(#gG)" stroke="#50566c" stroke-width="0.5" stroke-opacity="0.6"/>
<circle cx="110.4" cy="314" r="4.2" fill="url(#gB)" stroke="#3a4aa0" stroke-width="0.5" stroke-opacity="0.6"/>
<circle cx="36.4" cy="324.8" r="4.2" fill="url(#gB)" stroke="#3a4aa0" stroke-width="0.5" stroke-opacity="0.6"/>
<circle cx="47.1" cy="322.8" r="5.5" fill="url(#gR)" stroke="#8a0000" stroke-width="0.5" stroke-opacity="0.6"/>
<circle cx="26.4" cy="329" r="6.5" fill="url(#gP)" stroke="#6a4aa8" stroke-width="0.5" stroke-opacity="0.6"/>
<circle cx="79.2" cy="332.2" r="5.5" fill="url(#gR)" stroke="#8a0000" stroke-width="0.5" stroke-opacity="0.6"/>
<circle cx="51" cy="339.7" r="5.5" fill="url(#gR)" stroke="#8a0000" stroke-width="0.5" stroke-opacity="0.6"/>
<circle cx="77" cy="340.6" r="6.5" fill="url(#gP)" stroke="#6a4aa8" stroke-width="0.5" stroke-opacity="0.6"/>
<circle cx="111.7" cy="341.6" r="5" fill="url(#gG)" stroke="#50566c" stroke-width="0.5" stroke-opacity="0.6"/>
<circle cx="121" cy="340.8" r="4.2" fill="url(#gB)" stroke="#3a4aa0" stroke-width="0.5" stroke-opacity="0.6"/>
<circle cx="91.6" cy="350.9" r="4.2" fill="url(#gB)" stroke="#3a4aa0" stroke-width="0.5" stroke-opacity="0.6"/>
<circle cx="52.7" cy="359.1" r="6.5" fill="url(#gP)" stroke="#6a4aa8" stroke-width="0.5" stroke-opacity="0.6"/>
<circle cx="61" cy="361.3" r="6.5" fill="url(#gP)" stroke="#6a4aa8" stroke-width="0.5" stroke-opacity="0.6"/>
<circle cx="69.2" cy="357.2" r="6.5" fill="url(#gP)" stroke="#6a4aa8" stroke-width="0.5" stroke-opacity="0.6"/>
<circle cx="48.9" cy="365.4" r="6.5" fill="url(#gP)" stroke="#6a4aa8" stroke-width="0.5" stroke-opacity="0.6"/>
<circle cx="21.3" cy="364.9" r="6.5" fill="url(#gP)" stroke="#6a4aa8" stroke-width="0.5" stroke-opacity="0.6"/>
<circle cx="102.9" cy="365.4" r="6.5" fill="url(#gP)" stroke="#6a4aa8" stroke-width="0.5" stroke-opacity="0.6"/>
<circle cx="120.5" cy="375" r="5.5" fill="url(#gR)" stroke="#8a0000" stroke-width="0.5" stroke-opacity="0.6"/>
<circle cx="64" cy="377.5" r="5.5" fill="url(#gR)" stroke="#8a0000" stroke-width="0.5" stroke-opacity="0.6"/>
<circle cx="40.2" cy="380" r="6.5" fill="url(#gP)" stroke="#6a4aa8" stroke-width="0.5" stroke-opacity="0.6"/>
<circle cx="52.7" cy="385" r="5.5" fill="url(#gR)" stroke="#8a0000" stroke-width="0.5" stroke-opacity="0.6"/>
<circle cx="87.5" cy="387" r="6.5" fill="url(#gP)" stroke="#6a4aa8" stroke-width="0.5" stroke-opacity="0.6"/>
<circle cx="76.4" cy="386" r="5.5" fill="url(#gR)" stroke="#8a0000" stroke-width="0.5" stroke-opacity="0.6"/>
<circle cx="115.3" cy="384" r="6.5" fill="url(#gP)" stroke="#6a4aa8" stroke-width="0.5" stroke-opacity="0.6"/>
<circle cx="122" cy="386.5" r="6.5" fill="url(#gP)" stroke="#6a4aa8" stroke-width="0.5" stroke-opacity="0.6"/>
<circle cx="89.1" cy="395" r="6.5" fill="url(#gP)" stroke="#6a4aa8" stroke-width="0.5" stroke-opacity="0.6"/>
<circle cx="30.1" cy="395.6" r="4.2" fill="url(#gB)" stroke="#3a4aa0" stroke-width="0.5" stroke-opacity="0.6"/>
<circle cx="22.1" cy="406.4" r="4.2" fill="url(#gB)" stroke="#3a4aa0" stroke-width="0.5" stroke-opacity="0.6"/>
<circle cx="65.3" cy="403.8" r="6.5" fill="url(#gP)" stroke="#6a4aa8" stroke-width="0.5" stroke-opacity="0.6"/>
<circle cx="77.8" cy="412.6" r="6.5" fill="url(#gP)" stroke="#6a4aa8" stroke-width="0.5" stroke-opacity="0.6"/>
<circle cx="72.3" cy="405.8" r="6.5" fill="url(#gP)" stroke="#6a4aa8" stroke-width="0.5" stroke-opacity="0.6"/>
<circle cx="71.5" cy="421.4" r="6.5" fill="url(#gP)" stroke="#6a4aa8" stroke-width="0.5" stroke-opacity="0.6"/>
<circle cx="120.5" cy="408.9" r="6.5" fill="url(#gP)" stroke="#6a4aa8" stroke-width="0.5" stroke-opacity="0.6"/>
<circle cx="109.9" cy="418.2" r="5.5" fill="url(#gR)" stroke="#8a0000" stroke-width="0.5" stroke-opacity="0.6"/>
<circle cx="119.2" cy="426.4" r="5" fill="url(#gG)" stroke="#50566c" stroke-width="0.5" stroke-opacity="0.6"/>
<circle cx="109.2" cy="430.2" r="6.5" fill="url(#gP)" stroke="#6a4aa8" stroke-width="0.5" stroke-opacity="0.6"/>
<circle cx="125.5" cy="434" r="6.5" fill="url(#gP)" stroke="#6a4aa8" stroke-width="0.5" stroke-opacity="0.6"/>
<circle cx="49.7" cy="428.2" r="5.5" fill="url(#gR)" stroke="#8a0000" stroke-width="0.5" stroke-opacity="0.6"/>
<circle cx="92.9" cy="428.9" r="5.5" fill="url(#gR)" stroke="#8a0000" stroke-width="0.5" stroke-opacity="0.6"/>
<circle cx="38.9" cy="444.8" r="6.5" fill="url(#gP)" stroke="#6a4aa8" stroke-width="0.5" stroke-opacity="0.6"/>
<circle cx="37.7" cy="439" r="5.5" fill="url(#gR)" stroke="#8a0000" stroke-width="0.5" stroke-opacity="0.6"/>
<circle cx="71.5" cy="440.2" r="5.5" fill="url(#gR)" stroke="#8a0000" stroke-width="0.5" stroke-opacity="0.6"/>
<circle cx="76.6" cy="442.2" r="6.5" fill="url(#gP)" stroke="#6a4aa8" stroke-width="0.5" stroke-opacity="0.6"/>
<circle cx="70" cy="450.6" r="6.5" fill="url(#gP)" stroke="#6a4aa8" stroke-width="0.5" stroke-opacity="0.6"/>
<circle cx="62" cy="447.6" r="6.5" fill="url(#gP)" stroke="#6a4aa8" stroke-width="0.5" stroke-opacity="0.6"/>
<circle cx="34.6" cy="459.1" r="5.5" fill="url(#gR)" stroke="#8a0000" stroke-width="0.5" stroke-opacity="0.6"/>
<circle cx="123.5" cy="455.3" r="6.5" fill="url(#gP)" stroke="#6a4aa8" stroke-width="0.5" stroke-opacity="0.6"/>
<circle cx="126" cy="454.8" r="4.2" fill="url(#gB)" stroke="#3a4aa0" stroke-width="0.5" stroke-opacity="0.6"/>
<circle cx="54" cy="465.3" r="6.5" fill="url(#gP)" stroke="#6a4aa8" stroke-width="0.5" stroke-opacity="0.6"/>
<circle cx="90.4" cy="469.1" r="6.5" fill="url(#gP)" stroke="#6a4aa8" stroke-width="0.5" stroke-opacity="0.6"/>
<circle cx="86.6" cy="474.1" r="6.5" fill="url(#gP)" stroke="#6a4aa8" stroke-width="0.5" stroke-opacity="0.6"/>
<circle cx="43.9" cy="475.4" r="6.5" fill="url(#gP)" stroke="#6a4aa8" stroke-width="0.5" stroke-opacity="0.6"/>
<circle cx="22.6" cy="476.6" r="5.5" fill="url(#gR)" stroke="#8a0000" stroke-width="0.5" stroke-opacity="0.6"/>
<circle cx="91.6" cy="482.9" r="6.5" fill="url(#gP)" stroke="#6a4aa8" stroke-width="0.5" stroke-opacity="0.6"/>
<circle cx="102.4" cy="489.2" r="6.5" fill="url(#gP)" stroke="#6a4aa8" stroke-width="0.5" stroke-opacity="0.6"/>
<circle cx="43.9" cy="487.9" r="6.5" fill="url(#gP)" stroke="#6a4aa8" stroke-width="0.5" stroke-opacity="0.6"/>
<circle cx="60.2" cy="485.4" r="5.5" fill="url(#gR)" stroke="#8a0000" stroke-width="0.5" stroke-opacity="0.6"/>
<circle cx="74" cy="485.4" r="5.5" fill="url(#gR)" stroke="#8a0000" stroke-width="0.5" stroke-opacity="0.6"/>
<circle cx="74.8" cy="495.5" r="5.5" fill="url(#gR)" stroke="#8a0000" stroke-width="0.5" stroke-opacity="0.6"/>
<circle cx="41.4" cy="496" r="4.2" fill="url(#gB)" stroke="#3a4aa0" stroke-width="0.5" stroke-opacity="0.6"/>
<circle cx="128.8" cy="476.6" r="5.5" fill="url(#gR)" stroke="#8a0000" stroke-width="0.5" stroke-opacity="0.6"/>
<circle cx="128.8" cy="490.4" r="5.5" fill="url(#gR)" stroke="#8a0000" stroke-width="0.5" stroke-opacity="0.6"/>
<circle cx="151.4" cy="297.6" r="6.5" fill="url(#gP)" stroke="#6a4aa8" stroke-width="0.5" stroke-opacity="0.6"/>
<circle cx="162.7" cy="298.9" r="6.5" fill="url(#gP)" stroke="#6a4aa8" stroke-width="0.5" stroke-opacity="0.6"/>
<circle cx="156.4" cy="293.9" r="5.5" fill="url(#gR)" stroke="#8a0000" stroke-width="0.5" stroke-opacity="0.6"/>
<circle cx="210.9" cy="298.2" r="4.2" fill="url(#gB)" stroke="#3a4aa0" stroke-width="0.5" stroke-opacity="0.6"/>
<circle cx="219.1" cy="297.1" r="5.5" fill="url(#gR)" stroke="#8a0000" stroke-width="0.5" stroke-opacity="0.6"/>
<circle cx="131.3" cy="310.2" r="6.5" fill="url(#gP)" stroke="#6a4aa8" stroke-width="0.5" stroke-opacity="0.6"/>
<circle cx="161.4" cy="310.2" r="6.5" fill="url(#gP)" stroke="#6a4aa8" stroke-width="0.5" stroke-opacity="0.6"/>
<circle cx="182.2" cy="311.5" r="5.5" fill="url(#gR)" stroke="#8a0000" stroke-width="0.5" stroke-opacity="0.6"/>
<circle cx="208.4" cy="314.2" r="6.5" fill="url(#gP)" stroke="#6a4aa8" stroke-width="0.5" stroke-opacity="0.6"/>
<circle cx="209.3" cy="308.2" r="6.5" fill="url(#gP)" stroke="#6a4aa8" stroke-width="0.5" stroke-opacity="0.6"/>
<circle cx="186.5" cy="320.2" r="6.5" fill="url(#gP)" stroke="#6a4aa8" stroke-width="0.5" stroke-opacity="0.6"/>
<circle cx="135.6" cy="332.3" r="4.2" fill="url(#gB)" stroke="#3a4aa0" stroke-width="0.5" stroke-opacity="0.6"/>
<circle cx="190.3" cy="330.8" r="5.5" fill="url(#gR)" stroke="#8a0000" stroke-width="0.5" stroke-opacity="0.6"/>
<circle cx="196.6" cy="331.5" r="6.5" fill="url(#gP)" stroke="#6a4aa8" stroke-width="0.5" stroke-opacity="0.6"/>
<circle cx="137.1" cy="347.9" r="5" fill="url(#gG)" stroke="#50566c" stroke-width="0.5" stroke-opacity="0.6"/>
<circle cx="145.1" cy="354.1" r="6.5" fill="url(#gP)" stroke="#6a4aa8" stroke-width="0.5" stroke-opacity="0.6"/>
<circle cx="162.2" cy="354.1" r="6.5" fill="url(#gP)" stroke="#6a4aa8" stroke-width="0.5" stroke-opacity="0.6"/>
<circle cx="171.5" cy="345.3" r="5" fill="url(#gG)" stroke="#50566c" stroke-width="0.5" stroke-opacity="0.6"/>
<circle cx="185.3" cy="346.6" r="6.5" fill="url(#gP)" stroke="#6a4aa8" stroke-width="0.5" stroke-opacity="0.6"/>
<circle cx="230.4" cy="340.3" r="5.5" fill="url(#gR)" stroke="#8a0000" stroke-width="0.5" stroke-opacity="0.6"/>
<circle cx="233.5" cy="345.3" r="6.5" fill="url(#gP)" stroke="#6a4aa8" stroke-width="0.5" stroke-opacity="0.6"/>
<circle cx="209.1" cy="359.1" r="6.5" fill="url(#gP)" stroke="#6a4aa8" stroke-width="0.5" stroke-opacity="0.6"/>
<circle cx="163.9" cy="380" r="6.5" fill="url(#gP)" stroke="#6a4aa8" stroke-width="0.5" stroke-opacity="0.6"/>
<circle cx="196.6" cy="374.2" r="4.2" fill="url(#gB)" stroke="#3a4aa0" stroke-width="0.5" stroke-opacity="0.6"/>
<circle cx="217.9" cy="379" r="6.5" fill="url(#gP)" stroke="#6a4aa8" stroke-width="0.5" stroke-opacity="0.6"/>
<circle cx="207.8" cy="383.3" r="5" fill="url(#gG)" stroke="#50566c" stroke-width="0.5" stroke-opacity="0.6"/>
<circle cx="152.6" cy="393.8" r="6.5" fill="url(#gP)" stroke="#6a4aa8" stroke-width="0.5" stroke-opacity="0.6"/>
<circle cx="186.5" cy="397.1" r="5" fill="url(#gG)" stroke="#50566c" stroke-width="0.5" stroke-opacity="0.6"/>
<circle cx="163.9" cy="401.3" r="6.5" fill="url(#gP)" stroke="#6a4aa8" stroke-width="0.5" stroke-opacity="0.6"/>
<circle cx="135.1" cy="406.4" r="6.5" fill="url(#gP)" stroke="#6a4aa8" stroke-width="0.5" stroke-opacity="0.6"/>
<circle cx="141.3" cy="406.4" r="5.5" fill="url(#gR)" stroke="#8a0000" stroke-width="0.5" stroke-opacity="0.6"/>
<circle cx="205.3" cy="406.4" r="5.5" fill="url(#gR)" stroke="#8a0000" stroke-width="0.5" stroke-opacity="0.6"/>
<circle cx="204.1" cy="409.6" r="4.2" fill="url(#gB)" stroke="#3a4aa0" stroke-width="0.5" stroke-opacity="0.6"/>
<circle cx="152.4" cy="429.2" r="5.5" fill="url(#gR)" stroke="#8a0000" stroke-width="0.5" stroke-opacity="0.6"/>
<circle cx="159.9" cy="428.5" r="5.5" fill="url(#gR)" stroke="#8a0000" stroke-width="0.5" stroke-opacity="0.6"/>
<circle cx="152" cy="421.8" r="6.5" fill="url(#gP)" stroke="#6a4aa8" stroke-width="0.5" stroke-opacity="0.6"/>
<circle cx="172.2" cy="427.2" r="4.2" fill="url(#gB)" stroke="#3a4aa0" stroke-width="0.5" stroke-opacity="0.6"/>
<circle cx="187.3" cy="422.7" r="6.5" fill="url(#gP)" stroke="#6a4aa8" stroke-width="0.5" stroke-opacity="0.6"/>
<circle cx="185.3" cy="435.7" r="6.5" fill="url(#gP)" stroke="#6a4aa8" stroke-width="0.5" stroke-opacity="0.6"/>
<circle cx="235.5" cy="426.4" r="6.5" fill="url(#gP)" stroke="#6a4aa8" stroke-width="0.5" stroke-opacity="0.6"/>
<circle cx="225.2" cy="439.7" r="6.5" fill="url(#gP)" stroke="#6a4aa8" stroke-width="0.5" stroke-opacity="0.6"/>
<circle cx="223.9" cy="430" r="6.5" fill="url(#gP)" stroke="#6a4aa8" stroke-width="0.5" stroke-opacity="0.6"/>
<circle cx="170.2" cy="445.3" r="6.5" fill="url(#gP)" stroke="#6a4aa8" stroke-width="0.5" stroke-opacity="0.6"/>
<circle cx="190.3" cy="454.8" r="5.5" fill="url(#gR)" stroke="#8a0000" stroke-width="0.5" stroke-opacity="0.6"/>
<circle cx="210.4" cy="454" r="5.5" fill="url(#gR)" stroke="#8a0000" stroke-width="0.5" stroke-opacity="0.6"/>
<circle cx="214.1" cy="459.1" r="6.5" fill="url(#gP)" stroke="#6a4aa8" stroke-width="0.5" stroke-opacity="0.6"/>
<circle cx="140.1" cy="466.6" r="5" fill="url(#gG)" stroke="#50566c" stroke-width="0.5" stroke-opacity="0.6"/>
<circle cx="153.9" cy="465.3" r="6.5" fill="url(#gP)" stroke="#6a4aa8" stroke-width="0.5" stroke-opacity="0.6"/>
<circle cx="163.9" cy="463.3" r="6.5" fill="url(#gP)" stroke="#6a4aa8" stroke-width="0.5" stroke-opacity="0.6"/>
<circle cx="215.4" cy="470.9" r="6.5" fill="url(#gP)" stroke="#6a4aa8" stroke-width="0.5" stroke-opacity="0.6"/>
<circle cx="167.7" cy="479.1" r="6.5" fill="url(#gP)" stroke="#6a4aa8" stroke-width="0.5" stroke-opacity="0.6"/>
<circle cx="200.8" cy="477.9" r="4.2" fill="url(#gB)" stroke="#3a4aa0" stroke-width="0.5" stroke-opacity="0.6"/>
<circle cx="236" cy="483.4" r="6.5" fill="url(#gP)" stroke="#6a4aa8" stroke-width="0.5" stroke-opacity="0.6"/>
<circle cx="141.3" cy="490.4" r="5.5" fill="url(#gR)" stroke="#8a0000" stroke-width="0.5" stroke-opacity="0.6"/>
<circle cx="184.8" cy="496.7" r="5.5" fill="url(#gR)" stroke="#8a0000" stroke-width="0.5" stroke-opacity="0.6"/>
<circle cx="184" cy="491.7" r="6.5" fill="url(#gP)" stroke="#6a4aa8" stroke-width="0.5" stroke-opacity="0.6"/>
<circle cx="174" cy="498.5" r="4.2" fill="url(#gB)" stroke="#3a4aa0" stroke-width="0.5" stroke-opacity="0.6"/>
<polygon points="13.8,292.6 222.9,294.6 222.4,505.3 13.1,505" fill="none" stroke="#333" stroke-width="1.3"/>
<circle cx="210.9" cy="298.2" r="4.2" fill="url(#gB)" stroke="#3a4aa0" stroke-width="0.5" stroke-opacity="0.6"/>
<circle cx="219.1" cy="297.1" r="5.5" fill="url(#gR)" stroke="#8a0000" stroke-width="0.5" stroke-opacity="0.6"/>
<text x="32.8" y="280" font-family="Liberation Sans, Arial, sans-serif" font-size="10" fill="#c0e8a8">C</text>
<text x="13.2" y="504.8" font-family="Liberation Sans, Arial, sans-serif" font-size="9.5" fill="#e04848">A</text>
<text x="243.8" y="495.6" font-family="Liberation Sans, Arial, sans-serif" font-size="11.5" fill="#f0eca8">B</text>
<path d="M314.4,259.9H319.9M314.4,224.3H317.4M314.4,188.7H319.9M314.4,153.1H317.4M314.4,117.5H319.9M314.4,81.9H317.4M314.4,46.3H319.9M314.4,10.7H317.4M314.2,277.7V272.2M354.8,277.7V274.7M395.3,277.7V272.2M435.8,277.7V274.7M476.4,277.7V272.2M517,277.7V274.7M557.5,277.7V272.2M598,277.7V274.7M638.6,277.7V272.2" stroke="#000" stroke-width="1" fill="none"/>
<path d="M314.7,117.5C318.5,118.6 322.4,120.7 326.2,120.7C331.9,120.7 337.7,112.3 343.4,112.3C349.6,112.3 355.9,126.8 362.1,126.8C363.7,126.8 365.2,125.1 366.8,123.2C368,121.8 369.1,118.2 370.3,115C371.5,111.8 372.6,107.4 373.8,103.2C375,98.9 376.2,94.1 377.4,89.1C378.4,85.1 379.3,81 380.3,76.2C381,72.7 381.7,68 382.4,64.3C383.1,60.4 383.9,56 384.6,53.5C385.5,50.3 386.5,48 387.4,46.2C388.4,44.3 389.3,42.4 390.3,41.8C391.1,41.3 391.9,40.8 392.7,40.8C393.9,40.8 395,41.7 396.2,42.7C397.2,43.5 398.1,45.6 399.1,47.6C400.1,49.7 401.1,52.8 402.1,55.5C403.1,58.1 404,60.7 405,63.3C406,65.9 406.9,68.8 407.9,71.2C408.9,73.7 409.9,76.3 410.9,78C412.4,80.6 413.9,84.2 415.4,84.2C416.9,84.2 418.3,82.7 419.8,81.3C421.4,79.8 423.1,76.3 424.7,73.4C426,71.1 427.3,67.9 428.6,65.6C429.9,63.3 431.2,60.3 432.5,59.2C433.8,58.1 435.2,57 436.5,57C437.8,57 439.1,57.6 440.4,58.2C441.7,58.8 443,60.6 444.3,62.2C445.9,64.2 447.6,66.8 449.2,69.5C450.8,72.2 452.5,75.7 454.1,78.3C455.7,80.9 457.4,83.8 459,85.2C460,86.1 461,87 462,87.2C464.7,87.8 467.3,87.7 470,88.1C474.3,88.7 478.7,89.6 483,90.5C488.9,91.7 494.7,94.4 500.6,94.4C507.1,94.4 513.5,90.8 520,88C527.3,84.8 534.6,73.9 541.9,73.9C549.8,73.9 557.8,84.3 565.7,84.3C573.2,84.3 580.6,77.8 588.1,77.8C594.8,77.8 601.4,82.6 608.1,82.6C615.2,82.6 622.4,81 629.5,81C638,81 646.5,82.2 655,83C663,83.8 671,85 679,86" stroke="#000000" stroke-width="2.1" fill="none" stroke-linejoin="round"/>
<path d="M314.7,186.6C319.2,188.5 323.8,192.4 328.3,192.4C334.8,192.4 341.2,181.2 347.7,181.2C354.5,181.2 361.4,200.6 368.2,200.6C372.5,200.6 376.9,170 381.2,153.1C382.7,147.4 384.1,142.1 385.6,135C386.8,129.4 387.9,119.1 389.1,115C390.3,110.9 391.4,107.4 392.6,106.2C393.8,104.9 395,103.8 396.2,103.8C397.6,103.8 398.9,106.6 400.3,109.1C401.3,110.9 402.2,114.1 403.2,117.4C404.2,120.8 405.2,125.5 406.2,130.3C408.3,140.2 410.3,154 412.4,165C413.9,172.8 415.3,184.4 416.8,187.5C418.9,191.9 421,195.4 423.1,195.4C426.2,195.4 429.4,188.3 432.5,185.6C436.1,182.5 439.6,177.7 443.2,177.7C445.8,177.7 448.5,181.5 451.1,183.6C453.5,185.6 456,190 458.4,190C460.6,190 462.8,188.4 465,187.5C468.7,185.9 472.4,182.1 476.1,182.1C482.5,182.1 488.9,186.6 495.3,186.6C500.7,186.6 506,177.8 511.4,173.3C516.2,169.3 521,162.2 525.8,161.2C531.2,160.1 536.5,159.3 541.9,159.3C548.9,159.3 555.8,165.2 562.8,165.3C570.4,165.4 577.9,165.4 585.5,165.5C594.6,165.7 603.7,175.1 612.8,177.5C618.5,179 624.2,180.9 629.9,180.9C638.4,180.9 647,171.5 655.5,171.5C663.3,171.5 671.2,176 679,178.3" stroke="#8ee45a" stroke-width="2.1" fill="none" stroke-linejoin="round"/>
<path d="M314.7,189.4C318.5,190.8 322.4,193.7 326.2,193.7C331.9,193.7 337.7,180.1 343.4,180.1C349.5,180.1 355.7,204.5 361.8,204.5C363.6,204.5 365.4,202.3 367.2,199.5C369.7,195.7 372.2,172.1 374.7,155.3C375.6,149.2 376.5,141.1 377.4,135C377.9,131.4 378.5,128.6 379,125C380,118.1 381.1,107.8 382.1,102.1C383.3,95.7 384.4,92.5 385.6,86.8C386.2,83.9 386.8,79.3 387.4,77.1C388.1,74.6 388.8,72.4 389.5,71.5C390.3,70.6 391,69.7 391.8,69.7C392.6,69.7 393.4,70.6 394.2,71.5C395,72.5 395.9,75.2 396.7,78C397.5,80.7 398.3,85.1 399.1,89.1C400.3,94.9 401.4,101.1 402.6,107.9C403.6,113.7 404.6,120.1 405.6,126.8C407.4,138.6 409.1,155.6 410.9,165C412.2,171.9 413.5,178.9 414.8,181.7C417.1,186.7 419.4,191 421.7,191C424.6,191 427.6,183.3 430.5,180.7C432.8,178.7 435.1,175.8 437.4,175.8C439,175.8 440.7,176.3 442.3,176.8C444.9,177.6 447.5,182.9 450.1,184.6C452.7,186.3 455.4,188.5 458,188.5C460.3,188.5 462.7,186.6 465,185.6C468.4,184.1 471.9,180.5 475.3,180.5C480.6,180.5 486,183.7 491.3,183.7C498,183.7 504.7,173.9 511.4,173.3C516.2,172.8 521,172.9 525.8,172.5C533.8,171.8 541.9,164.5 549.9,164.5C554.7,164.5 559.6,166.9 564.4,166.9C571.4,166.9 578.5,164.6 585.5,164.6C594.6,164.6 603.7,171.8 612.8,172C620.8,172.2 628.7,172.1 636.7,172.3C644.7,172.5 652.6,173.9 660.6,174.4C666.7,174.8 672.9,175.1 679,175.4" stroke="#0c0cbe" stroke-width="2.1" fill="none" stroke-linejoin="round"/>
<path d="M314.7,260C318.8,260 322.9,260 327,260C331.3,260 335.7,262 340,262C343,262 346,260.4 349,259.5C351.2,258.8 353.3,257.2 355.5,257.2C357.7,257.2 359.8,258.4 362,259C366.3,260.3 370.7,263 375,263C381.4,263 387.8,253.5 394.2,253.5C397.8,253.5 401.4,258.6 405,262C407.7,264.5 410.5,271.2 413.2,271.2C416.1,271.2 419.1,264.1 422,258C424.6,252.7 427.1,244 429.7,233C430.8,228.4 431.8,220.2 432.9,215C434.7,206.3 436.5,196.2 438.3,192.5C440.3,188.5 442.2,184.6 444.2,184.6C446.5,184.6 448.8,188.1 451.1,192.5C452.7,195.6 454.4,207.6 456,215C458,224 460,236.2 462,241.7C463.9,247.1 465.9,250.3 467.8,253.4C470.1,257 472.4,262.1 474.7,262.3C477.3,262.6 479.9,262.7 482.5,262.7C485.8,262.7 489.1,260.6 492.4,258.8C496.3,256.7 500.2,252.2 504.1,248.5C506.1,246.6 508,243.4 510,242.5C512.3,241.4 514.5,240.4 516.8,240.4C519.2,240.4 521.6,243.4 524,246C526.4,248.6 528.7,255.8 531.1,258.5C535.2,263.2 539.4,268.4 543.5,268.4C547.7,268.4 551.8,259 556,252.2C558.5,248.2 560.9,239.4 563.4,236.7C567.1,232.5 570.9,228.6 574.6,228.6C578.7,228.6 582.9,236.6 587,242.3C591.1,248 595.3,262 599.4,264.6C601.5,265.9 603.7,267.2 605.8,267.2C610.7,267.2 615.6,248.7 620.5,240.5C625.2,232.7 629.8,218.8 634.5,218.8C640,218.8 645.5,231.9 651,235.4C653.1,236.8 655.3,238.6 657.4,238.6C663.3,238.6 669.3,227.1 675.2,227.1C676.5,227.1 677.7,227.7 679,228" stroke="#d22adc" stroke-width="2.1" fill="none" stroke-linejoin="round"/>
<path d="M314.7,261.5C318.8,260.8 322.9,260.2 327,259.5C330.3,258.9 333.7,257.6 337,257.6C340.3,257.6 343.7,260.1 347,261.2C349.5,262 352.1,263.5 354.6,263.5C356.8,263.5 359,262.6 361.2,261.6C362.6,261 364,259.1 365.4,258.3C368,256.8 370.7,254.8 373.3,254.8C376.2,254.8 379.1,259.4 382,262C384.7,264.4 387.3,269.6 390,269.6C391.7,269.6 393.3,268.9 395,268C397.4,266.7 399.7,260 402.1,252.8C404.5,245.4 407,227.2 409.4,215C411.2,205.9 413,194.1 414.8,188.5C416.2,184.1 417.6,180.6 419,178.6C420.1,177.1 421.1,175.3 422.2,175.3C423.3,175.3 424.3,177.1 425.4,178.6C426.4,180.1 427.5,182.5 428.5,185.6C430.5,191.5 432.4,206.3 434.4,215C435.5,219.7 436.5,223.8 437.6,228C439.7,236.4 441.9,247.2 444,252C446.7,258 449.3,264.7 452,264.7C454,264.7 456,262.6 458,261C459.9,259.4 461.9,255.9 463.8,254.2C465.8,252.4 467.8,250 469.8,250C473.1,250 476.3,254.4 479.6,256.4C483.9,259 488.1,263.7 492.4,263.7C496.3,263.7 500.2,262.4 504.1,261.3C509.4,259.8 514.7,256.2 520,253.4C525.7,250.4 531.3,244 537,244C543.3,244 549.7,252.2 556,252.2C565.5,252.2 575,252.2 584.5,252.2C588,252.2 591.5,250.1 595,248.1C598.3,246.2 601.7,239.5 605,237C608.9,234 612.8,230.3 616.7,230.3C625.6,230.3 634.5,244.9 643.4,244.9C651,244.9 658.7,239.4 666.3,239C670.5,238.8 674.8,238.7 679,238.6" stroke="#7a2020" stroke-width="2.1" fill="none" stroke-linejoin="round"/>
<path d="M314.7,258.5C318.8,258.8 322.9,259.4 327,259.5C331.3,259.7 335.7,259.7 340,259.8C345,260 350,260.5 355,260.5C360,260.5 365,260.2 370,260C375,259.8 380,259.4 385,259.4C389.8,259.4 394.7,263.4 399.5,263.4C402.7,263.4 405.8,257.4 409,252C411.3,248.1 413.6,240.9 415.9,233.1C417.3,228.3 418.8,220.4 420.2,215C423.3,203.4 426.4,187.5 429.5,184.6C432.1,182.1 434.8,180.2 437.4,180.2C440.7,180.2 443.9,183.8 447.2,188.5C449.5,191.8 451.7,207.7 454,215C456.7,223.6 459.3,230.6 462,236.8C464.3,242 466.5,247.9 468.8,250.5C471.7,253.9 474.7,256.3 477.6,257.4C481.5,258.9 485.5,260.3 489.4,260.3C502.1,260.3 514.7,260.1 527.4,259.5C535.7,259.1 543.9,245.8 552.2,244.8C554.7,244.5 557.2,244.2 559.7,244.2C565.5,244.2 571.2,247.9 577,247.9C583,247.9 589,241.2 595,237.9C599.2,235.6 603.5,230.9 607.7,230.9C614.9,230.9 622.2,239.6 629.4,240.5C631.9,240.8 634.5,241.1 637,241.1C643,241.1 648.9,235.4 654.9,235.4C657.9,235.4 660.8,237.7 663.8,239.2C668.9,241.8 673.9,246 679,249.4" stroke="#d22a1e" stroke-width="2.1" fill="none" stroke-linejoin="round"/>
<path d="M314.7,260C328.1,259.8 341.6,259.8 355,259.5C368.3,259.3 381.7,258 395,258C401.1,258 407.1,262.7 413.2,262.7C416.9,262.7 420.7,253.3 424.4,246.3C428.4,238.8 432.4,222.9 436.4,215C439.7,208.6 442.9,199.3 446.2,199.3C450.3,199.3 454.3,208.2 458.4,215C460.2,218 462,223 463.8,226.6C465.8,230.6 467.8,235.6 469.8,237.7C472.4,240.4 475,242.8 477.6,243.1C480.9,243.4 484.2,243.3 487.5,243.6C489.8,243.8 492,245 494.3,246.1C497.2,247.5 500.2,251 503.1,252C505.7,252.9 508.4,253.9 511,253.9C514,253.9 517,252.5 520,251.5C525.8,249.6 531.5,242.9 537.3,242.9C544.3,242.9 551.4,248.5 558.4,248.5C566.3,248.5 574.1,237.3 582,237.3C589.7,237.3 597.5,239.8 605.2,239.8C612,239.8 618.8,232.8 625.6,232.8C635.4,232.8 645.1,247.5 654.9,247.5C662.9,247.5 671,243.2 679,241.1" stroke="#e68c32" stroke-width="2.1" fill="none" stroke-linejoin="round"/>
<rect x="314.4" y="10.3" width="364.7" height="267.4" fill="none" stroke="#000" stroke-width="1.15"/>
<rect x="366.9" y="10.3" width="49" height="267.4" fill="none" stroke="#3246d2" stroke-width="1.8"/>
<rect x="415.9" y="10.3" width="46" height="267.4" fill="none" stroke="#bc4430" stroke-width="1.8"/>
<text x="309.5" y="262.8" text-anchor="end" font-family="Liberation Sans, Arial, sans-serif" font-size="12.8">0</text>
<text x="309.5" y="191.6" text-anchor="end" font-family="Liberation Sans, Arial, sans-serif" font-size="12.8">2</text>
<text x="309.5" y="120.4" text-anchor="end" font-family="Liberation Sans, Arial, sans-serif" font-size="12.8">4</text>
<text x="309.5" y="49.2" text-anchor="end" font-family="Liberation Sans, Arial, sans-serif" font-size="12.8">6</text>
<text x="314.2" y="294.2" text-anchor="middle" font-family="Liberation Sans, Arial, sans-serif" font-size="12.8">1</text>
<text x="395.3" y="294.2" text-anchor="middle" font-family="Liberation Sans, Arial, sans-serif" font-size="12.8">2</text>
<text x="476.4" y="294.2" text-anchor="middle" font-family="Liberation Sans, Arial, sans-serif" font-size="12.8">3</text>
<text x="557.5" y="294.2" text-anchor="middle" font-family="Liberation Sans, Arial, sans-serif" font-size="12.8">4</text>
<text x="638.6" y="294.2" text-anchor="middle" font-family="Liberation Sans, Arial, sans-serif" font-size="12.8">5</text>
<text transform="translate(277,174.2) rotate(-90)" font-family="Liberation Sans, Arial, sans-serif" font-size="21">g<tspan font-size="12" dy="5.2">AB</tspan><tspan dy="-5.2">(r)</tspan></text>
<text x="482.6" y="314.4" font-family="Liberation Serif, Times New Roman, serif" font-size="19"><tspan font-style="italic">r</tspan> (Å)</text>
<text x="269.3" y="26" font-family="Liberation Serif, Times New Roman, serif" font-size="20">(b)</text>
<line x1="596.8" y1="118.4" x2="627.4" y2="118.4" stroke="#0c0cbe" stroke-width="2"/><text x="630.5" y="124" font-family="Liberation Sans, Arial, sans-serif" font-size="13">g<tspan font-size="8.5" dy="4.2">LiO</tspan><tspan dy="-4.2">(r)</tspan></text>
<line x1="596.8" y1="139.8" x2="627.4" y2="139.8" stroke="#8ee45a" stroke-width="2"/><text x="630.5" y="145.4" font-family="Liberation Sans, Arial, sans-serif" font-size="13">g<tspan font-size="8.5" dy="4.2">CoO</tspan><tspan dy="-4.2">(r)</tspan></text>
<line x1="508.5" y1="191.8" x2="539.4" y2="191.8" stroke="#d22adc" stroke-width="2"/><text x="542.6" y="197.4" font-family="Liberation Sans, Arial, sans-serif" font-size="13">g<tspan font-size="8.5" dy="4.2">ZnZn</tspan><tspan dy="-4.2">(r)</tspan></text>
<line x1="508.5" y1="212.2" x2="539.4" y2="212.2" stroke="#7a2020" stroke-width="2"/><text x="542.6" y="217.8" font-family="Liberation Sans, Arial, sans-serif" font-size="13">g<tspan font-size="8.5" dy="4.2">CoCo</tspan><tspan dy="-4.2">(r)</tspan></text>
<line x1="596.7" y1="191.8" x2="626.1" y2="191.8" stroke="#d22a1e" stroke-width="2"/><text x="630.3" y="197.4" font-family="Liberation Sans, Arial, sans-serif" font-size="13">g<tspan font-size="8.5" dy="4.2">ZnCo</tspan><tspan dy="-4.2">(r)</tspan></text>
<line x1="596.7" y1="212.8" x2="626.1" y2="212.8" stroke="#e68c32" stroke-width="2"/><text x="630.3" y="218.4" font-family="Liberation Sans, Arial, sans-serif" font-size="13">g<tspan font-size="8.5" dy="4.2">LiZn</tspan><tspan dy="-4.2">(r)</tspan></text>
<line x1="366.9" y1="277.7" x2="281" y2="319.8" stroke="#000" stroke-width="1.6"/>
<line x1="415.9" y1="277.7" x2="476.8" y2="319.8" stroke="#000" stroke-width="1.6"/>
<line x1="415.9" y1="277.7" x2="486.7" y2="319.8" stroke="#000" stroke-width="1.6"/>
<line x1="461.9" y1="277.7" x2="681.9" y2="319.8" stroke="#000" stroke-width="1.6"/>
<rect x="281" y="319.8" width="195.8" height="186" fill="none" stroke="#000" stroke-width="2"/>
<rect x="486.7" y="319.8" width="195.2" height="185" fill="none" stroke="#000" stroke-width="2"/>
<line x1="337" y1="378.2" x2="338.8" y2="354.9" stroke="#a48ae0" stroke-width="3.2"/><line x1="338.8" y1="354.9" x2="340.6" y2="331.5" stroke="#a48ae0" stroke-width="3.2"/>
<line x1="337" y1="378.2" x2="345.9" y2="364.1" stroke="#a48ae0" stroke-width="3.2"/><line x1="345.9" y1="364.1" x2="354.7" y2="350" stroke="#c02424" stroke-width="3.2"/>
<line x1="337" y1="378.2" x2="319.8" y2="368.9" stroke="#a48ae0" stroke-width="3.2"/><line x1="319.8" y1="368.9" x2="302.6" y2="359.7" stroke="#c02424" stroke-width="3.2"/>
<line x1="337" y1="378.2" x2="316.3" y2="387.4" stroke="#a48ae0" stroke-width="3.2"/><line x1="316.3" y1="387.4" x2="295.6" y2="396.7" stroke="#a48ae0" stroke-width="3.2"/>
<line x1="337" y1="378.2" x2="331.3" y2="389.6" stroke="#a48ae0" stroke-width="3.2"/><line x1="331.3" y1="389.6" x2="325.6" y2="401.1" stroke="#c02424" stroke-width="3.2"/>
<line x1="337" y1="378.2" x2="353.8" y2="385.7" stroke="#a48ae0" stroke-width="3.2"/><line x1="353.8" y1="385.7" x2="370.5" y2="393.2" stroke="#a48ae0" stroke-width="3.2"/>
<circle cx="340.6" cy="331.5" r="8.1" fill="url(#gP)" stroke="#6a4aa8" stroke-width="0.5" stroke-opacity="0.6"/>
<circle cx="354.7" cy="350" r="7.9" fill="url(#gR)" stroke="#8a0000" stroke-width="0.5" stroke-opacity="0.6"/>
<circle cx="302.6" cy="359.7" r="7.9" fill="url(#gR)" stroke="#8a0000" stroke-width="0.5" stroke-opacity="0.6"/>
<circle cx="295.6" cy="396.7" r="7.8" fill="url(#gP)" stroke="#6a4aa8" stroke-width="0.5" stroke-opacity="0.6"/>
<circle cx="325.6" cy="401.1" r="7.8" fill="url(#gR)" stroke="#8a0000" stroke-width="0.5" stroke-opacity="0.6"/>
<circle cx="370.5" cy="393.2" r="7.8" fill="url(#gP)" stroke="#6a4aa8" stroke-width="0.5" stroke-opacity="0.6"/>
<circle cx="337" cy="378.2" r="7.3" fill="url(#gP)" stroke="#6a4aa8" stroke-width="0.5" stroke-opacity="0.6"/>
<line x1="437.9" y1="395.1" x2="423.2" y2="378.6" stroke="#a48ae0" stroke-width="3.2"/><line x1="423.2" y1="378.6" x2="408.5" y2="362.1" stroke="#a48ae0" stroke-width="3.2"/>
<line x1="437.9" y1="395.1" x2="441.6" y2="377.5" stroke="#a48ae0" stroke-width="3.2"/><line x1="441.6" y1="377.5" x2="445.3" y2="359.9" stroke="#c02424" stroke-width="3.2"/>
<line x1="437.9" y1="395.1" x2="448.6" y2="389.6" stroke="#a48ae0" stroke-width="3.2"/><line x1="448.6" y1="389.6" x2="459.3" y2="384.1" stroke="#c02424" stroke-width="3.2"/>
<line x1="437.9" y1="395.1" x2="417.4" y2="391.1" stroke="#a48ae0" stroke-width="3.2"/><line x1="417.4" y1="391.1" x2="396.8" y2="387.1" stroke="#c02424" stroke-width="3.2"/>
<circle cx="408.5" cy="362.1" r="7.8" fill="url(#gP)" stroke="#6a4aa8" stroke-width="0.5" stroke-opacity="0.6"/>
<circle cx="445.3" cy="359.9" r="7.8" fill="url(#gR)" stroke="#8a0000" stroke-width="0.5" stroke-opacity="0.6"/>
<circle cx="459.3" cy="384.1" r="7.8" fill="url(#gR)" stroke="#8a0000" stroke-width="0.5" stroke-opacity="0.6"/>
<circle cx="396.8" cy="387.1" r="7.8" fill="url(#gR)" stroke="#8a0000" stroke-width="0.5" stroke-opacity="0.6"/>
<circle cx="437.9" cy="395.1" r="7.3" fill="url(#gP)" stroke="#6a4aa8" stroke-width="0.5" stroke-opacity="0.6"/>
<line x1="328.2" y1="484.7" x2="317.6" y2="473.2" stroke="#6a7ee4" stroke-width="3.2"/><line x1="317.6" y1="473.2" x2="307.1" y2="461.8" stroke="#c02424" stroke-width="3.2"/>
<line x1="328.2" y1="484.7" x2="332.9" y2="469.7" stroke="#6a7ee4" stroke-width="3.2"/><line x1="332.9" y1="469.7" x2="337.6" y2="454.7" stroke="#c02424" stroke-width="3.2"/>
<line x1="328.2" y1="484.7" x2="342.9" y2="483.5" stroke="#6a7ee4" stroke-width="3.2"/><line x1="342.9" y1="483.5" x2="357.6" y2="482.4" stroke="#a48ae0" stroke-width="3.2"/>
<circle cx="307.1" cy="461.8" r="6.5" fill="url(#gR)" stroke="#8a0000" stroke-width="0.5" stroke-opacity="0.6"/>
<circle cx="337.6" cy="454.7" r="6.5" fill="url(#gR)" stroke="#8a0000" stroke-width="0.5" stroke-opacity="0.6"/>
<circle cx="357.6" cy="482.4" r="6.2" fill="url(#gP)" stroke="#6a4aa8" stroke-width="0.5" stroke-opacity="0.6"/>
<circle cx="328.2" cy="484.7" r="6.2" fill="url(#gB)" stroke="#3a4aa0" stroke-width="0.5" stroke-opacity="0.6"/>
<line x1="428.8" y1="459.4" x2="431.6" y2="440.3" stroke="#6a7ee4" stroke-width="3.2"/><line x1="431.6" y1="440.3" x2="434.4" y2="421.2" stroke="#c02424" stroke-width="3.2"/>
<line x1="428.8" y1="459.4" x2="445.6" y2="448.2" stroke="#6a7ee4" stroke-width="3.2"/><line x1="445.6" y1="448.2" x2="462.3" y2="437" stroke="#6a7ee4" stroke-width="3.2"/>
<line x1="428.8" y1="459.4" x2="412.5" y2="457.5" stroke="#6a7ee4" stroke-width="3.2"/><line x1="412.5" y1="457.5" x2="396.2" y2="455.6" stroke="#c02424" stroke-width="3.2"/>
<line x1="428.8" y1="459.4" x2="439.5" y2="470.1" stroke="#6a7ee4" stroke-width="3.2"/><line x1="439.5" y1="470.1" x2="450.2" y2="480.8" stroke="#a48ae0" stroke-width="3.2"/>
<line x1="428.8" y1="459.4" x2="424.6" y2="477.1" stroke="#6a7ee4" stroke-width="3.2"/><line x1="424.6" y1="477.1" x2="420.4" y2="494.8" stroke="#c02424" stroke-width="3.2"/>
<circle cx="434.4" cy="421.2" r="6.8" fill="url(#gR)" stroke="#8a0000" stroke-width="0.5" stroke-opacity="0.6"/>
<circle cx="462.3" cy="437" r="6.8" fill="url(#gB)" stroke="#3a4aa0" stroke-width="0.5" stroke-opacity="0.6"/>
<circle cx="396.2" cy="455.6" r="7.2" fill="url(#gR)" stroke="#8a0000" stroke-width="0.5" stroke-opacity="0.6"/>
<circle cx="450.2" cy="480.8" r="6.8" fill="url(#gP)" stroke="#6a4aa8" stroke-width="0.5" stroke-opacity="0.6"/>
<circle cx="420.4" cy="494.8" r="6.8" fill="url(#gR)" stroke="#8a0000" stroke-width="0.5" stroke-opacity="0.6"/>
<circle cx="428.8" cy="459.4" r="6.8" fill="url(#gB)" stroke="#3a4aa0" stroke-width="0.5" stroke-opacity="0.6"/>
<line x1="567.9" y1="357.3" x2="552.9" y2="348.9" stroke="#8a92a8" stroke-width="2.4"/><line x1="552.9" y1="348.9" x2="537.9" y2="340.5" stroke="#a48ae0" stroke-width="2.4"/>
<line x1="567.9" y1="357.3" x2="565.2" y2="345.9" stroke="#8a92a8" stroke-width="2.4"/><line x1="565.2" y1="345.9" x2="562.6" y2="334.4" stroke="#a48ae0" stroke-width="2.4"/>
<line x1="567.9" y1="357.3" x2="576.8" y2="343.6" stroke="#8a92a8" stroke-width="2.4"/><line x1="576.8" y1="343.6" x2="585.6" y2="329.9" stroke="#6a7ee4" stroke-width="2.4"/>
<line x1="567.9" y1="357.3" x2="579.8" y2="366.1" stroke="#8a92a8" stroke-width="2.4"/><line x1="579.8" y1="366.1" x2="591.8" y2="374.9" stroke="#a48ae0" stroke-width="2.4"/>
<line x1="567.9" y1="357.3" x2="566.1" y2="375.8" stroke="#8a92a8" stroke-width="2.4"/><line x1="566.1" y1="375.8" x2="564.4" y2="394.3" stroke="#a48ae0" stroke-width="2.4"/>
<line x1="567.9" y1="357.3" x2="585.4" y2="354.7" stroke="#8a92a8" stroke-width="2.4"/><line x1="585.4" y1="354.7" x2="602.9" y2="352.1" stroke="#6a7ee4" stroke-width="2.4"/>
<line x1="606.5" y1="358.2" x2="612.2" y2="362.6" stroke="#8a92a8" stroke-width="2.4"/><line x1="612.2" y1="362.6" x2="617.9" y2="367.1" stroke="#6a7ee4" stroke-width="2.4"/>
<line x1="617.9" y1="367.1" x2="635.5" y2="371.5" stroke="#6a7ee4" stroke-width="2.4"/><line x1="635.5" y1="371.5" x2="653.2" y2="375.9" stroke="#a48ae0" stroke-width="2.4"/>
<line x1="617.9" y1="367.1" x2="609.1" y2="380.8" stroke="#6a7ee4" stroke-width="2.4"/><line x1="609.1" y1="380.8" x2="600.3" y2="394.4" stroke="#a48ae0" stroke-width="2.4"/>
<line x1="617.9" y1="367.1" x2="625" y2="386.1" stroke="#6a7ee4" stroke-width="2.4"/><line x1="625" y1="386.1" x2="632.1" y2="405" stroke="#a48ae0" stroke-width="2.4"/>
<line x1="631.2" y1="377.6" x2="644" y2="389.6" stroke="#8a92a8" stroke-width="2.4"/><line x1="644" y1="389.6" x2="656.8" y2="401.5" stroke="#6a7ee4" stroke-width="2.4"/>
<line x1="653.2" y1="375.9" x2="655" y2="388.7" stroke="#a48ae0" stroke-width="2.4"/><line x1="655" y1="388.7" x2="656.8" y2="401.5" stroke="#6a7ee4" stroke-width="2.4"/>
<line x1="673.5" y1="368.8" x2="665.1" y2="385.1" stroke="#6a7ee4" stroke-width="2.4"/><line x1="665.1" y1="385.1" x2="656.8" y2="401.5" stroke="#6a7ee4" stroke-width="2.4"/>
<line x1="632.1" y1="405" x2="644.5" y2="403.2" stroke="#a48ae0" stroke-width="2.4"/><line x1="644.5" y1="403.2" x2="656.8" y2="401.5" stroke="#6a7ee4" stroke-width="2.4"/>
<line x1="600.3" y1="394.4" x2="613" y2="407.4" stroke="#a48ae0" stroke-width="2.4"/><line x1="613" y1="407.4" x2="625.8" y2="420.5" stroke="#8a92a8" stroke-width="2.4"/>
<line x1="632.1" y1="405" x2="629" y2="412.8" stroke="#a48ae0" stroke-width="2.4"/><line x1="629" y1="412.8" x2="625.8" y2="420.5" stroke="#8a92a8" stroke-width="2.4"/>
<line x1="656.8" y1="401.5" x2="641.3" y2="411" stroke="#6a7ee4" stroke-width="2.4"/><line x1="641.3" y1="411" x2="625.8" y2="420.5" stroke="#8a92a8" stroke-width="2.4"/>
<line x1="625.8" y1="420.5" x2="637" y2="430.2" stroke="#8a92a8" stroke-width="2.4"/><line x1="637" y1="430.2" x2="648.3" y2="440" stroke="#a48ae0" stroke-width="2.4"/>
<line x1="625.8" y1="420.5" x2="619.7" y2="434.5" stroke="#8a92a8" stroke-width="2.4"/><line x1="619.7" y1="434.5" x2="613.6" y2="448.5" stroke="#6a7ee4" stroke-width="2.4"/>
<line x1="625.8" y1="420.5" x2="606.9" y2="427.7" stroke="#8a92a8" stroke-width="2.4"/><line x1="606.9" y1="427.7" x2="588" y2="434.9" stroke="#6a7ee4" stroke-width="2.4"/>
<line x1="588" y1="434.9" x2="591.6" y2="424.6" stroke="#6a7ee4" stroke-width="2.4"/><line x1="591.6" y1="424.6" x2="595.2" y2="414.4" stroke="#a48ae0" stroke-width="2.4"/>
<line x1="588" y1="434.9" x2="600.8" y2="441.7" stroke="#6a7ee4" stroke-width="2.4"/><line x1="600.8" y1="441.7" x2="613.6" y2="448.5" stroke="#6a7ee4" stroke-width="2.4"/>
<line x1="588" y1="434.9" x2="587" y2="453.2" stroke="#6a7ee4" stroke-width="2.4"/><line x1="587" y1="453.2" x2="586" y2="471.6" stroke="#a48ae0" stroke-width="2.4"/>
<line x1="588" y1="434.9" x2="571" y2="431.7" stroke="#6a7ee4" stroke-width="2.4"/><line x1="571" y1="431.7" x2="554.1" y2="428.5" stroke="#8a92a8" stroke-width="2.4"/>
<line x1="613.6" y1="448.5" x2="613.6" y2="452.9" stroke="#6a7ee4" stroke-width="2.4"/><line x1="613.6" y1="452.9" x2="613.6" y2="457.3" stroke="#a48ae0" stroke-width="2.4"/>
<line x1="588" y1="434.9" x2="600.8" y2="446.1" stroke="#6a7ee4" stroke-width="2.4"/><line x1="600.8" y1="446.1" x2="613.6" y2="457.3" stroke="#a48ae0" stroke-width="2.4"/>
<line x1="554.1" y1="428.5" x2="563.8" y2="416.1" stroke="#8a92a8" stroke-width="2.4"/><line x1="563.8" y1="416.1" x2="573.5" y2="403.7" stroke="#a48ae0" stroke-width="2.4"/>
<line x1="554.1" y1="428.5" x2="567" y2="436.8" stroke="#8a92a8" stroke-width="2.4"/><line x1="567" y1="436.8" x2="579.9" y2="445.1" stroke="#6a7ee4" stroke-width="2.4"/>
<line x1="554.1" y1="428.5" x2="554.8" y2="440.4" stroke="#8a92a8" stroke-width="2.4"/><line x1="554.8" y1="440.4" x2="555.5" y2="452.2" stroke="#a48ae0" stroke-width="2.4"/>
<line x1="554.1" y1="428.5" x2="539.7" y2="441.6" stroke="#8a92a8" stroke-width="2.4"/><line x1="539.7" y1="441.6" x2="525.2" y2="454.7" stroke="#8a92a8" stroke-width="2.4"/>
<line x1="525.2" y1="454.7" x2="511.4" y2="441" stroke="#8a92a8" stroke-width="2.4"/><line x1="511.4" y1="441" x2="497.5" y2="427.4" stroke="#6a7ee4" stroke-width="2.4"/>
<line x1="525.2" y1="454.7" x2="521" y2="442.4" stroke="#8a92a8" stroke-width="2.4"/><line x1="521" y1="442.4" x2="516.9" y2="430" stroke="#a48ae0" stroke-width="2.4"/>
<line x1="525.2" y1="454.7" x2="520.2" y2="456" stroke="#8a92a8" stroke-width="2.4"/><line x1="520.2" y1="456" x2="515.1" y2="457.4" stroke="#a48ae0" stroke-width="2.4"/>
<line x1="525.2" y1="454.7" x2="510" y2="458.6" stroke="#8a92a8" stroke-width="2.4"/><line x1="510" y1="458.6" x2="494.8" y2="462.6" stroke="#a48ae0" stroke-width="2.4"/>
<line x1="525.2" y1="454.7" x2="529" y2="465.3" stroke="#8a92a8" stroke-width="2.4"/><line x1="529" y1="465.3" x2="532.8" y2="475.9" stroke="#6a7ee4" stroke-width="2.4"/>
<line x1="525.2" y1="454.7" x2="541.7" y2="462.2" stroke="#8a92a8" stroke-width="2.4"/><line x1="541.7" y1="462.2" x2="558.2" y2="469.7" stroke="#a48ae0" stroke-width="2.4"/>
<line x1="525.2" y1="454.7" x2="521" y2="473.6" stroke="#8a92a8" stroke-width="2.4"/><line x1="521" y1="473.6" x2="516.9" y2="492.6" stroke="#a48ae0" stroke-width="2.4"/>
<circle cx="665.6" cy="399.7" r="5.3" fill="url(#gP)" stroke="#6a4aa8" stroke-width="0.5" stroke-opacity="0.6"/>
<circle cx="673.5" cy="368.8" r="5.5" fill="url(#gB)" stroke="#3a4aa0" stroke-width="0.5" stroke-opacity="0.6"/>
<circle cx="653.2" cy="375.9" r="5.3" fill="url(#gP)" stroke="#6a4aa8" stroke-width="0.5" stroke-opacity="0.6"/>
<circle cx="631.2" cy="377.6" r="5.8" fill="url(#gG)" stroke="#50566c" stroke-width="0.5" stroke-opacity="0.6"/>
<circle cx="648.3" cy="440" r="5.3" fill="url(#gP)" stroke="#6a4aa8" stroke-width="0.5" stroke-opacity="0.6"/>
<circle cx="656.8" cy="401.5" r="5.5" fill="url(#gB)" stroke="#3a4aa0" stroke-width="0.5" stroke-opacity="0.6"/>
<circle cx="632.1" cy="405" r="5.3" fill="url(#gP)" stroke="#6a4aa8" stroke-width="0.5" stroke-opacity="0.6"/>
<circle cx="625.8" cy="420.5" r="5.8" fill="url(#gG)" stroke="#50566c" stroke-width="0.5" stroke-opacity="0.6"/>
<circle cx="600.3" cy="394.4" r="5.3" fill="url(#gP)" stroke="#6a4aa8" stroke-width="0.5" stroke-opacity="0.6"/>
<circle cx="595.2" cy="414.4" r="5.3" fill="url(#gP)" stroke="#6a4aa8" stroke-width="0.5" stroke-opacity="0.6"/>
<circle cx="613.6" cy="457.3" r="5.3" fill="url(#gP)" stroke="#6a4aa8" stroke-width="0.5" stroke-opacity="0.6"/>
<circle cx="613.6" cy="448.5" r="5.8" fill="url(#gB)" stroke="#3a4aa0" stroke-width="0.5" stroke-opacity="0.6"/>
<circle cx="586" cy="471.6" r="5.3" fill="url(#gP)" stroke="#6a4aa8" stroke-width="0.5" stroke-opacity="0.6"/>
<circle cx="579.9" cy="445.1" r="5.8" fill="url(#gB)" stroke="#3a4aa0" stroke-width="0.5" stroke-opacity="0.6"/>
<circle cx="588" cy="434.9" r="5.8" fill="url(#gB)" stroke="#3a4aa0" stroke-width="0.5" stroke-opacity="0.6"/>
<circle cx="573.5" cy="403.7" r="5.3" fill="url(#gP)" stroke="#6a4aa8" stroke-width="0.5" stroke-opacity="0.6"/>
<circle cx="555.5" cy="452.2" r="5.3" fill="url(#gP)" stroke="#6a4aa8" stroke-width="0.5" stroke-opacity="0.6"/>
<circle cx="554.1" cy="428.5" r="5.5" fill="url(#gG)" stroke="#50566c" stroke-width="0.5" stroke-opacity="0.6"/>
<circle cx="558.2" cy="469.7" r="5.3" fill="url(#gP)" stroke="#6a4aa8" stroke-width="0.5" stroke-opacity="0.6"/>
<circle cx="564.4" cy="394.3" r="5.3" fill="url(#gP)" stroke="#6a4aa8" stroke-width="0.5" stroke-opacity="0.6"/>
<circle cx="591.8" cy="374.9" r="5.3" fill="url(#gP)" stroke="#6a4aa8" stroke-width="0.5" stroke-opacity="0.6"/>
<circle cx="537.9" cy="340.5" r="5.3" fill="url(#gP)" stroke="#6a4aa8" stroke-width="0.5" stroke-opacity="0.6"/>
<circle cx="562.6" cy="334.4" r="5.3" fill="url(#gP)" stroke="#6a4aa8" stroke-width="0.5" stroke-opacity="0.6"/>
<circle cx="585.6" cy="329.9" r="5.3" fill="url(#gB)" stroke="#3a4aa0" stroke-width="0.5" stroke-opacity="0.6"/>
<circle cx="602.9" cy="352.1" r="5" fill="url(#gB)" stroke="#3a4aa0" stroke-width="0.5" stroke-opacity="0.6"/>
<circle cx="606.5" cy="358.2" r="5" fill="url(#gG)" stroke="#50566c" stroke-width="0.5" stroke-opacity="0.6"/>
<circle cx="617.9" cy="367.1" r="5.5" fill="url(#gB)" stroke="#3a4aa0" stroke-width="0.5" stroke-opacity="0.6"/>
<circle cx="567.9" cy="357.3" r="5.3" fill="url(#gG)" stroke="#50566c" stroke-width="0.5" stroke-opacity="0.6"/>
<circle cx="515.1" cy="457.4" r="5.5" fill="url(#gP)" stroke="#6a4aa8" stroke-width="0.5" stroke-opacity="0.6"/>
<circle cx="516.9" cy="430" r="5.5" fill="url(#gP)" stroke="#6a4aa8" stroke-width="0.5" stroke-opacity="0.6"/>
<circle cx="497.5" cy="427.4" r="5.8" fill="url(#gB)" stroke="#3a4aa0" stroke-width="0.5" stroke-opacity="0.6"/>
<circle cx="494.8" cy="462.6" r="5.5" fill="url(#gP)" stroke="#6a4aa8" stroke-width="0.5" stroke-opacity="0.6"/>
<circle cx="516.9" cy="492.6" r="5.5" fill="url(#gP)" stroke="#6a4aa8" stroke-width="0.5" stroke-opacity="0.6"/>
<circle cx="532.8" cy="475.9" r="5.5" fill="url(#gB)" stroke="#3a4aa0" stroke-width="0.5" stroke-opacity="0.6"/>
<circle cx="525.2" cy="454.7" r="5.3" fill="url(#gG)" stroke="#50566c" stroke-width="0.5" stroke-opacity="0.6"/>
</svg>
</div></body></html>
